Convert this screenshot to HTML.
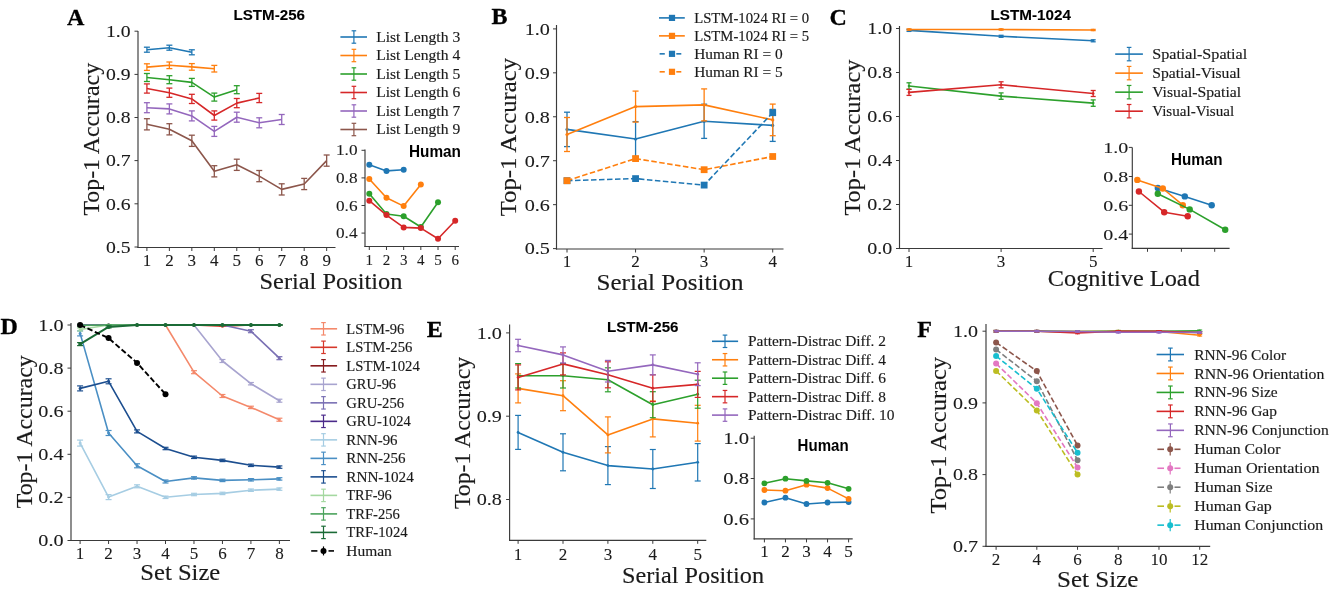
<!DOCTYPE html><html><head><meta charset="utf-8"><style>html,body{margin:0;padding:0;background:#fff;}svg{display:block;will-change:transform;}</style></head><body><svg width="1344" height="602" viewBox="0 0 1344 602">
<defs><filter id="bl" x="0" y="0" width="100%" height="100%" filterUnits="userSpaceOnUse"><feGaussianBlur stdDeviation="0.0"/></filter></defs>
<rect width="1344" height="602" fill="#fff"/>
<g>
<text x="67.0" y="24.7" font-family='"Liberation Serif", serif' font-size="24" font-weight="bold" text-anchor="start" fill="#000" stroke="#000" stroke-width="0.3">A</text>
<text x="233.5" y="19.9" font-family='"Liberation Sans", sans-serif' font-size="15.5" font-weight="bold" text-anchor="start" fill="#000" textLength="71.5" lengthAdjust="spacingAndGlyphs" stroke="#000" stroke-width="0.1">LSTM-256</text>
<line x1="138.00" y1="31.00" x2="138.00" y2="248.07" stroke="#3a3a3a" stroke-width="1.15"/>
<line x1="137.43" y1="247.50" x2="335.50" y2="247.50" stroke="#3a3a3a" stroke-width="1.15"/>
<line x1="134.50" y1="31.20" x2="138.00" y2="31.20" stroke="#3a3a3a" stroke-width="1"/>
<text x="130.6" y="37.0" font-family='"Liberation Serif", serif' font-size="17" font-weight="normal" text-anchor="end" fill="#1a1a1a" textLength="24.6" lengthAdjust="spacingAndGlyphs" stroke="#1a1a1a" stroke-width="0.1">1.0</text>
<line x1="134.50" y1="74.40" x2="138.00" y2="74.40" stroke="#3a3a3a" stroke-width="1"/>
<text x="130.6" y="80.2" font-family='"Liberation Serif", serif' font-size="17" font-weight="normal" text-anchor="end" fill="#1a1a1a" textLength="24.6" lengthAdjust="spacingAndGlyphs" stroke="#1a1a1a" stroke-width="0.1">0.9</text>
<line x1="134.50" y1="117.50" x2="138.00" y2="117.50" stroke="#3a3a3a" stroke-width="1"/>
<text x="130.6" y="123.3" font-family='"Liberation Serif", serif' font-size="17" font-weight="normal" text-anchor="end" fill="#1a1a1a" textLength="24.6" lengthAdjust="spacingAndGlyphs" stroke="#1a1a1a" stroke-width="0.1">0.8</text>
<line x1="134.50" y1="160.60" x2="138.00" y2="160.60" stroke="#3a3a3a" stroke-width="1"/>
<text x="130.6" y="166.4" font-family='"Liberation Serif", serif' font-size="17" font-weight="normal" text-anchor="end" fill="#1a1a1a" textLength="24.6" lengthAdjust="spacingAndGlyphs" stroke="#1a1a1a" stroke-width="0.1">0.7</text>
<line x1="134.50" y1="203.80" x2="138.00" y2="203.80" stroke="#3a3a3a" stroke-width="1"/>
<text x="130.6" y="209.6" font-family='"Liberation Serif", serif' font-size="17" font-weight="normal" text-anchor="end" fill="#1a1a1a" textLength="24.6" lengthAdjust="spacingAndGlyphs" stroke="#1a1a1a" stroke-width="0.1">0.6</text>
<line x1="134.50" y1="247.00" x2="138.00" y2="247.00" stroke="#3a3a3a" stroke-width="1"/>
<text x="130.6" y="252.8" font-family='"Liberation Serif", serif' font-size="17" font-weight="normal" text-anchor="end" fill="#1a1a1a" textLength="24.6" lengthAdjust="spacingAndGlyphs" stroke="#1a1a1a" stroke-width="0.1">0.5</text>
<line x1="146.90" y1="247.50" x2="146.90" y2="251.00" stroke="#3a3a3a" stroke-width="1"/>
<text x="146.9" y="265.8" font-family='"Liberation Serif", serif' font-size="17" font-weight="normal" text-anchor="middle" fill="#1a1a1a" stroke="#1a1a1a" stroke-width="0.1">1</text>
<line x1="169.37" y1="247.50" x2="169.37" y2="251.00" stroke="#3a3a3a" stroke-width="1"/>
<text x="169.4" y="265.8" font-family='"Liberation Serif", serif' font-size="17" font-weight="normal" text-anchor="middle" fill="#1a1a1a" stroke="#1a1a1a" stroke-width="0.1">2</text>
<line x1="191.84" y1="247.50" x2="191.84" y2="251.00" stroke="#3a3a3a" stroke-width="1"/>
<text x="191.8" y="265.8" font-family='"Liberation Serif", serif' font-size="17" font-weight="normal" text-anchor="middle" fill="#1a1a1a" stroke="#1a1a1a" stroke-width="0.1">3</text>
<line x1="214.31" y1="247.50" x2="214.31" y2="251.00" stroke="#3a3a3a" stroke-width="1"/>
<text x="214.3" y="265.8" font-family='"Liberation Serif", serif' font-size="17" font-weight="normal" text-anchor="middle" fill="#1a1a1a" stroke="#1a1a1a" stroke-width="0.1">4</text>
<line x1="236.78" y1="247.50" x2="236.78" y2="251.00" stroke="#3a3a3a" stroke-width="1"/>
<text x="236.8" y="265.8" font-family='"Liberation Serif", serif' font-size="17" font-weight="normal" text-anchor="middle" fill="#1a1a1a" stroke="#1a1a1a" stroke-width="0.1">5</text>
<line x1="259.25" y1="247.50" x2="259.25" y2="251.00" stroke="#3a3a3a" stroke-width="1"/>
<text x="259.2" y="265.8" font-family='"Liberation Serif", serif' font-size="17" font-weight="normal" text-anchor="middle" fill="#1a1a1a" stroke="#1a1a1a" stroke-width="0.1">6</text>
<line x1="281.72" y1="247.50" x2="281.72" y2="251.00" stroke="#3a3a3a" stroke-width="1"/>
<text x="281.7" y="265.8" font-family='"Liberation Serif", serif' font-size="17" font-weight="normal" text-anchor="middle" fill="#1a1a1a" stroke="#1a1a1a" stroke-width="0.1">7</text>
<line x1="304.19" y1="247.50" x2="304.19" y2="251.00" stroke="#3a3a3a" stroke-width="1"/>
<text x="304.2" y="265.8" font-family='"Liberation Serif", serif' font-size="17" font-weight="normal" text-anchor="middle" fill="#1a1a1a" stroke="#1a1a1a" stroke-width="0.1">8</text>
<line x1="326.66" y1="247.50" x2="326.66" y2="251.00" stroke="#3a3a3a" stroke-width="1"/>
<text x="326.7" y="265.8" font-family='"Liberation Serif", serif' font-size="17" font-weight="normal" text-anchor="middle" fill="#1a1a1a" stroke="#1a1a1a" stroke-width="0.1">9</text>
<text x="259.5" y="288.5" font-family='"Liberation Serif", serif' font-size="22.5" font-weight="normal" text-anchor="start" fill="#1a1a1a" textLength="143.0" lengthAdjust="spacingAndGlyphs" stroke="#1a1a1a" stroke-width="0.15">Serial Position</text>
<text transform="translate(98.9,215.6) rotate(-90)" x="0" y="0" font-family='"Liberation Serif", serif' font-size="23" fill="#1a1a1a" stroke="#1a1a1a" stroke-width="0.15" textLength="152.7" lengthAdjust="spacingAndGlyphs">Top-1 Accuracy</text>
<polyline points="146.90,49.70 169.37,47.70 191.84,52.30" fill="none" stroke="#1f77b4" stroke-width="1.6" stroke-linejoin="round"/>
<line x1="146.90" y1="47.20" x2="146.90" y2="52.20" stroke="#1f77b4" stroke-width="1.3"/>
<line x1="143.90" y1="47.20" x2="149.90" y2="47.20" stroke="#1f77b4" stroke-width="1.3"/>
<line x1="143.90" y1="52.20" x2="149.90" y2="52.20" stroke="#1f77b4" stroke-width="1.3"/>
<line x1="169.37" y1="45.20" x2="169.37" y2="50.20" stroke="#1f77b4" stroke-width="1.3"/>
<line x1="166.37" y1="45.20" x2="172.37" y2="45.20" stroke="#1f77b4" stroke-width="1.3"/>
<line x1="166.37" y1="50.20" x2="172.37" y2="50.20" stroke="#1f77b4" stroke-width="1.3"/>
<line x1="191.84" y1="49.80" x2="191.84" y2="54.80" stroke="#1f77b4" stroke-width="1.3"/>
<line x1="188.84" y1="49.80" x2="194.84" y2="49.80" stroke="#1f77b4" stroke-width="1.3"/>
<line x1="188.84" y1="54.80" x2="194.84" y2="54.80" stroke="#1f77b4" stroke-width="1.3"/>
<polyline points="146.90,67.10 169.37,65.30 191.84,66.90 214.31,68.70" fill="none" stroke="#ff7f0e" stroke-width="1.6" stroke-linejoin="round"/>
<line x1="146.90" y1="63.80" x2="146.90" y2="70.40" stroke="#ff7f0e" stroke-width="1.3"/>
<line x1="143.90" y1="63.80" x2="149.90" y2="63.80" stroke="#ff7f0e" stroke-width="1.3"/>
<line x1="143.90" y1="70.40" x2="149.90" y2="70.40" stroke="#ff7f0e" stroke-width="1.3"/>
<line x1="169.37" y1="62.00" x2="169.37" y2="68.60" stroke="#ff7f0e" stroke-width="1.3"/>
<line x1="166.37" y1="62.00" x2="172.37" y2="62.00" stroke="#ff7f0e" stroke-width="1.3"/>
<line x1="166.37" y1="68.60" x2="172.37" y2="68.60" stroke="#ff7f0e" stroke-width="1.3"/>
<line x1="191.84" y1="63.60" x2="191.84" y2="70.20" stroke="#ff7f0e" stroke-width="1.3"/>
<line x1="188.84" y1="63.60" x2="194.84" y2="63.60" stroke="#ff7f0e" stroke-width="1.3"/>
<line x1="188.84" y1="70.20" x2="194.84" y2="70.20" stroke="#ff7f0e" stroke-width="1.3"/>
<line x1="214.31" y1="65.40" x2="214.31" y2="72.00" stroke="#ff7f0e" stroke-width="1.3"/>
<line x1="211.31" y1="65.40" x2="217.31" y2="65.40" stroke="#ff7f0e" stroke-width="1.3"/>
<line x1="211.31" y1="72.00" x2="217.31" y2="72.00" stroke="#ff7f0e" stroke-width="1.3"/>
<polyline points="146.90,77.50 169.37,79.70 191.84,82.40 214.31,97.10 236.78,89.70" fill="none" stroke="#2ca02c" stroke-width="1.6" stroke-linejoin="round"/>
<line x1="146.90" y1="73.50" x2="146.90" y2="81.50" stroke="#2ca02c" stroke-width="1.3"/>
<line x1="143.90" y1="73.50" x2="149.90" y2="73.50" stroke="#2ca02c" stroke-width="1.3"/>
<line x1="143.90" y1="81.50" x2="149.90" y2="81.50" stroke="#2ca02c" stroke-width="1.3"/>
<line x1="169.37" y1="75.70" x2="169.37" y2="83.70" stroke="#2ca02c" stroke-width="1.3"/>
<line x1="166.37" y1="75.70" x2="172.37" y2="75.70" stroke="#2ca02c" stroke-width="1.3"/>
<line x1="166.37" y1="83.70" x2="172.37" y2="83.70" stroke="#2ca02c" stroke-width="1.3"/>
<line x1="191.84" y1="78.40" x2="191.84" y2="86.40" stroke="#2ca02c" stroke-width="1.3"/>
<line x1="188.84" y1="78.40" x2="194.84" y2="78.40" stroke="#2ca02c" stroke-width="1.3"/>
<line x1="188.84" y1="86.40" x2="194.84" y2="86.40" stroke="#2ca02c" stroke-width="1.3"/>
<line x1="214.31" y1="93.10" x2="214.31" y2="101.10" stroke="#2ca02c" stroke-width="1.3"/>
<line x1="211.31" y1="93.10" x2="217.31" y2="93.10" stroke="#2ca02c" stroke-width="1.3"/>
<line x1="211.31" y1="101.10" x2="217.31" y2="101.10" stroke="#2ca02c" stroke-width="1.3"/>
<line x1="236.78" y1="85.70" x2="236.78" y2="93.70" stroke="#2ca02c" stroke-width="1.3"/>
<line x1="233.78" y1="85.70" x2="239.78" y2="85.70" stroke="#2ca02c" stroke-width="1.3"/>
<line x1="233.78" y1="93.70" x2="239.78" y2="93.70" stroke="#2ca02c" stroke-width="1.3"/>
<polyline points="146.90,88.50 169.37,92.70 191.84,98.90 214.31,115.50 236.78,103.10 259.25,98.00" fill="none" stroke="#d62728" stroke-width="1.6" stroke-linejoin="round"/>
<line x1="146.90" y1="83.90" x2="146.90" y2="93.10" stroke="#d62728" stroke-width="1.3"/>
<line x1="143.90" y1="83.90" x2="149.90" y2="83.90" stroke="#d62728" stroke-width="1.3"/>
<line x1="143.90" y1="93.10" x2="149.90" y2="93.10" stroke="#d62728" stroke-width="1.3"/>
<line x1="169.37" y1="88.10" x2="169.37" y2="97.30" stroke="#d62728" stroke-width="1.3"/>
<line x1="166.37" y1="88.10" x2="172.37" y2="88.10" stroke="#d62728" stroke-width="1.3"/>
<line x1="166.37" y1="97.30" x2="172.37" y2="97.30" stroke="#d62728" stroke-width="1.3"/>
<line x1="191.84" y1="94.30" x2="191.84" y2="103.50" stroke="#d62728" stroke-width="1.3"/>
<line x1="188.84" y1="94.30" x2="194.84" y2="94.30" stroke="#d62728" stroke-width="1.3"/>
<line x1="188.84" y1="103.50" x2="194.84" y2="103.50" stroke="#d62728" stroke-width="1.3"/>
<line x1="214.31" y1="110.90" x2="214.31" y2="120.10" stroke="#d62728" stroke-width="1.3"/>
<line x1="211.31" y1="110.90" x2="217.31" y2="110.90" stroke="#d62728" stroke-width="1.3"/>
<line x1="211.31" y1="120.10" x2="217.31" y2="120.10" stroke="#d62728" stroke-width="1.3"/>
<line x1="236.78" y1="98.50" x2="236.78" y2="107.70" stroke="#d62728" stroke-width="1.3"/>
<line x1="233.78" y1="98.50" x2="239.78" y2="98.50" stroke="#d62728" stroke-width="1.3"/>
<line x1="233.78" y1="107.70" x2="239.78" y2="107.70" stroke="#d62728" stroke-width="1.3"/>
<line x1="259.25" y1="93.40" x2="259.25" y2="102.60" stroke="#d62728" stroke-width="1.3"/>
<line x1="256.25" y1="93.40" x2="262.25" y2="93.40" stroke="#d62728" stroke-width="1.3"/>
<line x1="256.25" y1="102.60" x2="262.25" y2="102.60" stroke="#d62728" stroke-width="1.3"/>
<polyline points="146.90,107.70 169.37,108.90 191.84,115.90 214.31,131.40 236.78,117.20 259.25,122.80 281.72,119.50" fill="none" stroke="#9467bd" stroke-width="1.6" stroke-linejoin="round"/>
<line x1="146.90" y1="102.70" x2="146.90" y2="112.70" stroke="#9467bd" stroke-width="1.3"/>
<line x1="143.90" y1="102.70" x2="149.90" y2="102.70" stroke="#9467bd" stroke-width="1.3"/>
<line x1="143.90" y1="112.70" x2="149.90" y2="112.70" stroke="#9467bd" stroke-width="1.3"/>
<line x1="169.37" y1="103.90" x2="169.37" y2="113.90" stroke="#9467bd" stroke-width="1.3"/>
<line x1="166.37" y1="103.90" x2="172.37" y2="103.90" stroke="#9467bd" stroke-width="1.3"/>
<line x1="166.37" y1="113.90" x2="172.37" y2="113.90" stroke="#9467bd" stroke-width="1.3"/>
<line x1="191.84" y1="110.90" x2="191.84" y2="120.90" stroke="#9467bd" stroke-width="1.3"/>
<line x1="188.84" y1="110.90" x2="194.84" y2="110.90" stroke="#9467bd" stroke-width="1.3"/>
<line x1="188.84" y1="120.90" x2="194.84" y2="120.90" stroke="#9467bd" stroke-width="1.3"/>
<line x1="214.31" y1="126.40" x2="214.31" y2="136.40" stroke="#9467bd" stroke-width="1.3"/>
<line x1="211.31" y1="126.40" x2="217.31" y2="126.40" stroke="#9467bd" stroke-width="1.3"/>
<line x1="211.31" y1="136.40" x2="217.31" y2="136.40" stroke="#9467bd" stroke-width="1.3"/>
<line x1="236.78" y1="112.20" x2="236.78" y2="122.20" stroke="#9467bd" stroke-width="1.3"/>
<line x1="233.78" y1="112.20" x2="239.78" y2="112.20" stroke="#9467bd" stroke-width="1.3"/>
<line x1="233.78" y1="122.20" x2="239.78" y2="122.20" stroke="#9467bd" stroke-width="1.3"/>
<line x1="259.25" y1="117.80" x2="259.25" y2="127.80" stroke="#9467bd" stroke-width="1.3"/>
<line x1="256.25" y1="117.80" x2="262.25" y2="117.80" stroke="#9467bd" stroke-width="1.3"/>
<line x1="256.25" y1="127.80" x2="262.25" y2="127.80" stroke="#9467bd" stroke-width="1.3"/>
<line x1="281.72" y1="114.50" x2="281.72" y2="124.50" stroke="#9467bd" stroke-width="1.3"/>
<line x1="278.72" y1="114.50" x2="284.72" y2="114.50" stroke="#9467bd" stroke-width="1.3"/>
<line x1="278.72" y1="124.50" x2="284.72" y2="124.50" stroke="#9467bd" stroke-width="1.3"/>
<polyline points="146.90,124.30 169.37,129.30 191.84,140.80 214.31,171.30 236.78,164.80 259.25,176.10 281.72,189.40 304.19,184.00 326.66,160.60" fill="none" stroke="#8c564b" stroke-width="1.6" stroke-linejoin="round"/>
<line x1="146.90" y1="118.70" x2="146.90" y2="129.90" stroke="#8c564b" stroke-width="1.3"/>
<line x1="143.90" y1="118.70" x2="149.90" y2="118.70" stroke="#8c564b" stroke-width="1.3"/>
<line x1="143.90" y1="129.90" x2="149.90" y2="129.90" stroke="#8c564b" stroke-width="1.3"/>
<line x1="169.37" y1="123.70" x2="169.37" y2="134.90" stroke="#8c564b" stroke-width="1.3"/>
<line x1="166.37" y1="123.70" x2="172.37" y2="123.70" stroke="#8c564b" stroke-width="1.3"/>
<line x1="166.37" y1="134.90" x2="172.37" y2="134.90" stroke="#8c564b" stroke-width="1.3"/>
<line x1="191.84" y1="135.20" x2="191.84" y2="146.40" stroke="#8c564b" stroke-width="1.3"/>
<line x1="188.84" y1="135.20" x2="194.84" y2="135.20" stroke="#8c564b" stroke-width="1.3"/>
<line x1="188.84" y1="146.40" x2="194.84" y2="146.40" stroke="#8c564b" stroke-width="1.3"/>
<line x1="214.31" y1="165.70" x2="214.31" y2="176.90" stroke="#8c564b" stroke-width="1.3"/>
<line x1="211.31" y1="165.70" x2="217.31" y2="165.70" stroke="#8c564b" stroke-width="1.3"/>
<line x1="211.31" y1="176.90" x2="217.31" y2="176.90" stroke="#8c564b" stroke-width="1.3"/>
<line x1="236.78" y1="159.20" x2="236.78" y2="170.40" stroke="#8c564b" stroke-width="1.3"/>
<line x1="233.78" y1="159.20" x2="239.78" y2="159.20" stroke="#8c564b" stroke-width="1.3"/>
<line x1="233.78" y1="170.40" x2="239.78" y2="170.40" stroke="#8c564b" stroke-width="1.3"/>
<line x1="259.25" y1="170.50" x2="259.25" y2="181.70" stroke="#8c564b" stroke-width="1.3"/>
<line x1="256.25" y1="170.50" x2="262.25" y2="170.50" stroke="#8c564b" stroke-width="1.3"/>
<line x1="256.25" y1="181.70" x2="262.25" y2="181.70" stroke="#8c564b" stroke-width="1.3"/>
<line x1="281.72" y1="183.80" x2="281.72" y2="195.00" stroke="#8c564b" stroke-width="1.3"/>
<line x1="278.72" y1="183.80" x2="284.72" y2="183.80" stroke="#8c564b" stroke-width="1.3"/>
<line x1="278.72" y1="195.00" x2="284.72" y2="195.00" stroke="#8c564b" stroke-width="1.3"/>
<line x1="304.19" y1="178.40" x2="304.19" y2="189.60" stroke="#8c564b" stroke-width="1.3"/>
<line x1="301.19" y1="178.40" x2="307.19" y2="178.40" stroke="#8c564b" stroke-width="1.3"/>
<line x1="301.19" y1="189.60" x2="307.19" y2="189.60" stroke="#8c564b" stroke-width="1.3"/>
<line x1="326.66" y1="155.00" x2="326.66" y2="166.20" stroke="#8c564b" stroke-width="1.3"/>
<line x1="323.66" y1="155.00" x2="329.66" y2="155.00" stroke="#8c564b" stroke-width="1.3"/>
<line x1="323.66" y1="166.20" x2="329.66" y2="166.20" stroke="#8c564b" stroke-width="1.3"/>
<line x1="340.40" y1="37.00" x2="367.00" y2="37.00" stroke="#1f77b4" stroke-width="1.6"/>
<line x1="353.90" y1="30.80" x2="353.90" y2="43.20" stroke="#1f77b4" stroke-width="1.2"/>
<line x1="351.60" y1="30.80" x2="356.20" y2="30.80" stroke="#1f77b4" stroke-width="1.2"/>
<line x1="351.60" y1="43.20" x2="356.20" y2="43.20" stroke="#1f77b4" stroke-width="1.2"/>
<text x="376.2" y="41.9" font-family='"Liberation Serif", serif' font-size="15" font-weight="normal" text-anchor="start" fill="#1a1a1a" textLength="84.0" lengthAdjust="spacingAndGlyphs" stroke="#1a1a1a" stroke-width="0.15">List Length 3</text>
<line x1="340.40" y1="55.50" x2="367.00" y2="55.50" stroke="#ff7f0e" stroke-width="1.6"/>
<line x1="353.90" y1="49.30" x2="353.90" y2="61.70" stroke="#ff7f0e" stroke-width="1.2"/>
<line x1="351.60" y1="49.30" x2="356.20" y2="49.30" stroke="#ff7f0e" stroke-width="1.2"/>
<line x1="351.60" y1="61.70" x2="356.20" y2="61.70" stroke="#ff7f0e" stroke-width="1.2"/>
<text x="376.2" y="60.4" font-family='"Liberation Serif", serif' font-size="15" font-weight="normal" text-anchor="start" fill="#1a1a1a" textLength="84.0" lengthAdjust="spacingAndGlyphs" stroke="#1a1a1a" stroke-width="0.15">List Length 4</text>
<line x1="340.40" y1="74.00" x2="367.00" y2="74.00" stroke="#2ca02c" stroke-width="1.6"/>
<line x1="353.90" y1="67.80" x2="353.90" y2="80.20" stroke="#2ca02c" stroke-width="1.2"/>
<line x1="351.60" y1="67.80" x2="356.20" y2="67.80" stroke="#2ca02c" stroke-width="1.2"/>
<line x1="351.60" y1="80.20" x2="356.20" y2="80.20" stroke="#2ca02c" stroke-width="1.2"/>
<text x="376.2" y="78.9" font-family='"Liberation Serif", serif' font-size="15" font-weight="normal" text-anchor="start" fill="#1a1a1a" textLength="84.0" lengthAdjust="spacingAndGlyphs" stroke="#1a1a1a" stroke-width="0.15">List Length 5</text>
<line x1="340.40" y1="92.50" x2="367.00" y2="92.50" stroke="#d62728" stroke-width="1.6"/>
<line x1="353.90" y1="86.30" x2="353.90" y2="98.70" stroke="#d62728" stroke-width="1.2"/>
<line x1="351.60" y1="86.30" x2="356.20" y2="86.30" stroke="#d62728" stroke-width="1.2"/>
<line x1="351.60" y1="98.70" x2="356.20" y2="98.70" stroke="#d62728" stroke-width="1.2"/>
<text x="376.2" y="97.4" font-family='"Liberation Serif", serif' font-size="15" font-weight="normal" text-anchor="start" fill="#1a1a1a" textLength="84.0" lengthAdjust="spacingAndGlyphs" stroke="#1a1a1a" stroke-width="0.15">List Length 6</text>
<line x1="340.40" y1="111.00" x2="367.00" y2="111.00" stroke="#9467bd" stroke-width="1.6"/>
<line x1="353.90" y1="104.80" x2="353.90" y2="117.20" stroke="#9467bd" stroke-width="1.2"/>
<line x1="351.60" y1="104.80" x2="356.20" y2="104.80" stroke="#9467bd" stroke-width="1.2"/>
<line x1="351.60" y1="117.20" x2="356.20" y2="117.20" stroke="#9467bd" stroke-width="1.2"/>
<text x="376.2" y="115.9" font-family='"Liberation Serif", serif' font-size="15" font-weight="normal" text-anchor="start" fill="#1a1a1a" textLength="84.0" lengthAdjust="spacingAndGlyphs" stroke="#1a1a1a" stroke-width="0.15">List Length 7</text>
<line x1="340.40" y1="129.50" x2="367.00" y2="129.50" stroke="#8c564b" stroke-width="1.6"/>
<line x1="353.90" y1="123.30" x2="353.90" y2="135.70" stroke="#8c564b" stroke-width="1.2"/>
<line x1="351.60" y1="123.30" x2="356.20" y2="123.30" stroke="#8c564b" stroke-width="1.2"/>
<line x1="351.60" y1="135.70" x2="356.20" y2="135.70" stroke="#8c564b" stroke-width="1.2"/>
<text x="376.2" y="134.4" font-family='"Liberation Serif", serif' font-size="15" font-weight="normal" text-anchor="start" fill="#1a1a1a" textLength="84.0" lengthAdjust="spacingAndGlyphs" stroke="#1a1a1a" stroke-width="0.15">List Length 9</text>
<line x1="365.00" y1="149.50" x2="365.00" y2="247.07" stroke="#3a3a3a" stroke-width="1.15"/>
<line x1="364.43" y1="246.50" x2="459.00" y2="246.50" stroke="#3a3a3a" stroke-width="1.15"/>
<line x1="361.50" y1="150.30" x2="365.00" y2="150.30" stroke="#3a3a3a" stroke-width="1"/>
<text x="357.5" y="155.3" font-family='"Liberation Serif", serif' font-size="14.5" font-weight="normal" text-anchor="end" fill="#1a1a1a" textLength="21.5" lengthAdjust="spacingAndGlyphs" stroke="#1a1a1a" stroke-width="0.1">1.0</text>
<line x1="361.50" y1="177.90" x2="365.00" y2="177.90" stroke="#3a3a3a" stroke-width="1"/>
<text x="357.5" y="182.9" font-family='"Liberation Serif", serif' font-size="14.5" font-weight="normal" text-anchor="end" fill="#1a1a1a" textLength="21.5" lengthAdjust="spacingAndGlyphs" stroke="#1a1a1a" stroke-width="0.1">0.8</text>
<line x1="361.50" y1="205.50" x2="365.00" y2="205.50" stroke="#3a3a3a" stroke-width="1"/>
<text x="357.5" y="210.5" font-family='"Liberation Serif", serif' font-size="14.5" font-weight="normal" text-anchor="end" fill="#1a1a1a" textLength="21.5" lengthAdjust="spacingAndGlyphs" stroke="#1a1a1a" stroke-width="0.1">0.6</text>
<line x1="361.50" y1="233.10" x2="365.00" y2="233.10" stroke="#3a3a3a" stroke-width="1"/>
<text x="357.5" y="238.1" font-family='"Liberation Serif", serif' font-size="14.5" font-weight="normal" text-anchor="end" fill="#1a1a1a" textLength="21.5" lengthAdjust="spacingAndGlyphs" stroke="#1a1a1a" stroke-width="0.1">0.4</text>
<line x1="369.30" y1="246.50" x2="369.30" y2="250.00" stroke="#3a3a3a" stroke-width="1"/>
<text x="369.3" y="265.2" font-family='"Liberation Serif", serif' font-size="15" font-weight="normal" text-anchor="middle" fill="#1a1a1a" stroke="#1a1a1a" stroke-width="0.1">1</text>
<line x1="386.48" y1="246.50" x2="386.48" y2="250.00" stroke="#3a3a3a" stroke-width="1"/>
<text x="386.5" y="265.2" font-family='"Liberation Serif", serif' font-size="15" font-weight="normal" text-anchor="middle" fill="#1a1a1a" stroke="#1a1a1a" stroke-width="0.1">2</text>
<line x1="403.66" y1="246.50" x2="403.66" y2="250.00" stroke="#3a3a3a" stroke-width="1"/>
<text x="403.7" y="265.2" font-family='"Liberation Serif", serif' font-size="15" font-weight="normal" text-anchor="middle" fill="#1a1a1a" stroke="#1a1a1a" stroke-width="0.1">3</text>
<line x1="420.84" y1="246.50" x2="420.84" y2="250.00" stroke="#3a3a3a" stroke-width="1"/>
<text x="420.8" y="265.2" font-family='"Liberation Serif", serif' font-size="15" font-weight="normal" text-anchor="middle" fill="#1a1a1a" stroke="#1a1a1a" stroke-width="0.1">4</text>
<line x1="438.02" y1="246.50" x2="438.02" y2="250.00" stroke="#3a3a3a" stroke-width="1"/>
<text x="438.0" y="265.2" font-family='"Liberation Serif", serif' font-size="15" font-weight="normal" text-anchor="middle" fill="#1a1a1a" stroke="#1a1a1a" stroke-width="0.1">5</text>
<line x1="455.20" y1="246.50" x2="455.20" y2="250.00" stroke="#3a3a3a" stroke-width="1"/>
<text x="455.2" y="265.2" font-family='"Liberation Serif", serif' font-size="15" font-weight="normal" text-anchor="middle" fill="#1a1a1a" stroke="#1a1a1a" stroke-width="0.1">6</text>
<text x="409.0" y="156.6" font-family='"Liberation Sans", sans-serif' font-size="15.7" font-weight="bold" text-anchor="start" fill="#000" textLength="52.0" lengthAdjust="spacingAndGlyphs">Human</text>
<polyline points="369.30,164.80 386.48,170.90 403.66,169.80" fill="none" stroke="#1f77b4" stroke-width="1.6" stroke-linejoin="round"/>
<circle cx="369.30" cy="164.80" r="3.0" fill="#1f77b4"/>
<circle cx="386.48" cy="170.90" r="3.0" fill="#1f77b4"/>
<circle cx="403.66" cy="169.80" r="3.0" fill="#1f77b4"/>
<polyline points="369.30,179.00 386.48,197.80 403.66,206.10 420.84,184.40" fill="none" stroke="#ff7f0e" stroke-width="1.6" stroke-linejoin="round"/>
<circle cx="369.30" cy="179.00" r="3.0" fill="#ff7f0e"/>
<circle cx="386.48" cy="197.80" r="3.0" fill="#ff7f0e"/>
<circle cx="403.66" cy="206.10" r="3.0" fill="#ff7f0e"/>
<circle cx="420.84" cy="184.40" r="3.0" fill="#ff7f0e"/>
<polyline points="369.30,193.80 386.48,214.00 403.66,216.20 420.84,227.00 438.02,202.30" fill="none" stroke="#2ca02c" stroke-width="1.6" stroke-linejoin="round"/>
<circle cx="369.30" cy="193.80" r="3.0" fill="#2ca02c"/>
<circle cx="386.48" cy="214.00" r="3.0" fill="#2ca02c"/>
<circle cx="403.66" cy="216.20" r="3.0" fill="#2ca02c"/>
<circle cx="420.84" cy="227.00" r="3.0" fill="#2ca02c"/>
<circle cx="438.02" cy="202.30" r="3.0" fill="#2ca02c"/>
<polyline points="369.30,200.70 386.48,215.10 403.66,227.40 420.84,228.10 438.02,238.70 455.20,220.70" fill="none" stroke="#d62728" stroke-width="1.6" stroke-linejoin="round"/>
<circle cx="369.30" cy="200.70" r="3.0" fill="#d62728"/>
<circle cx="386.48" cy="215.10" r="3.0" fill="#d62728"/>
<circle cx="403.66" cy="227.40" r="3.0" fill="#d62728"/>
<circle cx="420.84" cy="228.10" r="3.0" fill="#d62728"/>
<circle cx="438.02" cy="238.70" r="3.0" fill="#d62728"/>
<circle cx="455.20" cy="220.70" r="3.0" fill="#d62728"/>
<text x="491.5" y="24.3" font-family='"Liberation Serif", serif' font-size="24" font-weight="bold" text-anchor="start" fill="#000" stroke="#000" stroke-width="0.3">B</text>
<line x1="556.50" y1="25.00" x2="556.50" y2="249.57" stroke="#3a3a3a" stroke-width="1.15"/>
<line x1="555.92" y1="249.00" x2="783.50" y2="249.00" stroke="#3a3a3a" stroke-width="1.15"/>
<line x1="553.00" y1="28.90" x2="556.50" y2="28.90" stroke="#3a3a3a" stroke-width="1"/>
<text x="549.9" y="34.7" font-family='"Liberation Serif", serif' font-size="17" font-weight="normal" text-anchor="end" fill="#1a1a1a" textLength="25.2" lengthAdjust="spacingAndGlyphs" stroke="#1a1a1a" stroke-width="0.1">1.0</text>
<line x1="553.00" y1="72.84" x2="556.50" y2="72.84" stroke="#3a3a3a" stroke-width="1"/>
<text x="549.9" y="78.6" font-family='"Liberation Serif", serif' font-size="17" font-weight="normal" text-anchor="end" fill="#1a1a1a" textLength="25.2" lengthAdjust="spacingAndGlyphs" stroke="#1a1a1a" stroke-width="0.1">0.9</text>
<line x1="553.00" y1="116.78" x2="556.50" y2="116.78" stroke="#3a3a3a" stroke-width="1"/>
<text x="549.9" y="122.6" font-family='"Liberation Serif", serif' font-size="17" font-weight="normal" text-anchor="end" fill="#1a1a1a" textLength="25.2" lengthAdjust="spacingAndGlyphs" stroke="#1a1a1a" stroke-width="0.1">0.8</text>
<line x1="553.00" y1="160.72" x2="556.50" y2="160.72" stroke="#3a3a3a" stroke-width="1"/>
<text x="549.9" y="166.5" font-family='"Liberation Serif", serif' font-size="17" font-weight="normal" text-anchor="end" fill="#1a1a1a" textLength="25.2" lengthAdjust="spacingAndGlyphs" stroke="#1a1a1a" stroke-width="0.1">0.7</text>
<line x1="553.00" y1="204.66" x2="556.50" y2="204.66" stroke="#3a3a3a" stroke-width="1"/>
<text x="549.9" y="210.5" font-family='"Liberation Serif", serif' font-size="17" font-weight="normal" text-anchor="end" fill="#1a1a1a" textLength="25.2" lengthAdjust="spacingAndGlyphs" stroke="#1a1a1a" stroke-width="0.1">0.6</text>
<line x1="553.00" y1="248.60" x2="556.50" y2="248.60" stroke="#3a3a3a" stroke-width="1"/>
<text x="549.9" y="254.4" font-family='"Liberation Serif", serif' font-size="17" font-weight="normal" text-anchor="end" fill="#1a1a1a" textLength="25.2" lengthAdjust="spacingAndGlyphs" stroke="#1a1a1a" stroke-width="0.1">0.5</text>
<line x1="567.00" y1="249.00" x2="567.00" y2="252.50" stroke="#3a3a3a" stroke-width="1"/>
<text x="567.0" y="267.0" font-family='"Liberation Serif", serif' font-size="17" font-weight="normal" text-anchor="middle" fill="#1a1a1a" stroke="#1a1a1a" stroke-width="0.1">1</text>
<line x1="635.57" y1="249.00" x2="635.57" y2="252.50" stroke="#3a3a3a" stroke-width="1"/>
<text x="635.6" y="267.0" font-family='"Liberation Serif", serif' font-size="17" font-weight="normal" text-anchor="middle" fill="#1a1a1a" stroke="#1a1a1a" stroke-width="0.1">2</text>
<line x1="704.14" y1="249.00" x2="704.14" y2="252.50" stroke="#3a3a3a" stroke-width="1"/>
<text x="704.1" y="267.0" font-family='"Liberation Serif", serif' font-size="17" font-weight="normal" text-anchor="middle" fill="#1a1a1a" stroke="#1a1a1a" stroke-width="0.1">3</text>
<line x1="772.71" y1="249.00" x2="772.71" y2="252.50" stroke="#3a3a3a" stroke-width="1"/>
<text x="772.7" y="267.0" font-family='"Liberation Serif", serif' font-size="17" font-weight="normal" text-anchor="middle" fill="#1a1a1a" stroke="#1a1a1a" stroke-width="0.1">4</text>
<text x="596.5" y="289.8" font-family='"Liberation Serif", serif' font-size="23" font-weight="normal" text-anchor="start" fill="#1a1a1a" textLength="147.0" lengthAdjust="spacingAndGlyphs" stroke="#1a1a1a" stroke-width="0.15">Serial Position</text>
<text transform="translate(516.3,216.3) rotate(-90)" x="0" y="0" font-family='"Liberation Serif", serif' font-size="23" fill="#1a1a1a" stroke="#1a1a1a" stroke-width="0.15" textLength="158.4" lengthAdjust="spacingAndGlyphs">Top-1 Accuracy</text>
<polyline points="567.00,129.40 635.57,139.00 704.14,121.30 772.71,125.40" fill="none" stroke="#1f77b4" stroke-width="1.6" stroke-linejoin="round"/>
<line x1="567.00" y1="112.20" x2="567.00" y2="146.60" stroke="#1f77b4" stroke-width="1.3"/>
<line x1="564.00" y1="112.20" x2="570.00" y2="112.20" stroke="#1f77b4" stroke-width="1.3"/>
<line x1="564.00" y1="146.60" x2="570.00" y2="146.60" stroke="#1f77b4" stroke-width="1.3"/>
<circle cx="567.00" cy="129.40" r="1.6" fill="#1f77b4"/>
<line x1="635.57" y1="121.60" x2="635.57" y2="156.40" stroke="#1f77b4" stroke-width="1.3"/>
<line x1="632.57" y1="121.60" x2="638.57" y2="121.60" stroke="#1f77b4" stroke-width="1.3"/>
<line x1="632.57" y1="156.40" x2="638.57" y2="156.40" stroke="#1f77b4" stroke-width="1.3"/>
<circle cx="635.57" cy="139.00" r="1.6" fill="#1f77b4"/>
<line x1="704.14" y1="104.20" x2="704.14" y2="138.40" stroke="#1f77b4" stroke-width="1.3"/>
<line x1="701.14" y1="104.20" x2="707.14" y2="104.20" stroke="#1f77b4" stroke-width="1.3"/>
<line x1="701.14" y1="138.40" x2="707.14" y2="138.40" stroke="#1f77b4" stroke-width="1.3"/>
<circle cx="704.14" cy="121.30" r="1.6" fill="#1f77b4"/>
<line x1="772.71" y1="109.40" x2="772.71" y2="141.40" stroke="#1f77b4" stroke-width="1.3"/>
<line x1="769.71" y1="109.40" x2="775.71" y2="109.40" stroke="#1f77b4" stroke-width="1.3"/>
<line x1="769.71" y1="141.40" x2="775.71" y2="141.40" stroke="#1f77b4" stroke-width="1.3"/>
<circle cx="772.71" cy="125.40" r="1.6" fill="#1f77b4"/>
<polyline points="567.00,134.50 635.57,106.60 704.14,104.90 772.71,119.90" fill="none" stroke="#ff7f0e" stroke-width="1.6" stroke-linejoin="round"/>
<line x1="567.00" y1="117.50" x2="567.00" y2="151.50" stroke="#ff7f0e" stroke-width="1.3"/>
<line x1="564.00" y1="117.50" x2="570.00" y2="117.50" stroke="#ff7f0e" stroke-width="1.3"/>
<line x1="564.00" y1="151.50" x2="570.00" y2="151.50" stroke="#ff7f0e" stroke-width="1.3"/>
<circle cx="567.00" cy="134.50" r="1.6" fill="#ff7f0e"/>
<line x1="635.57" y1="91.10" x2="635.57" y2="122.10" stroke="#ff7f0e" stroke-width="1.3"/>
<line x1="632.57" y1="91.10" x2="638.57" y2="91.10" stroke="#ff7f0e" stroke-width="1.3"/>
<line x1="632.57" y1="122.10" x2="638.57" y2="122.10" stroke="#ff7f0e" stroke-width="1.3"/>
<circle cx="635.57" cy="106.60" r="1.6" fill="#ff7f0e"/>
<line x1="704.14" y1="88.90" x2="704.14" y2="120.90" stroke="#ff7f0e" stroke-width="1.3"/>
<line x1="701.14" y1="88.90" x2="707.14" y2="88.90" stroke="#ff7f0e" stroke-width="1.3"/>
<line x1="701.14" y1="120.90" x2="707.14" y2="120.90" stroke="#ff7f0e" stroke-width="1.3"/>
<circle cx="704.14" cy="104.90" r="1.6" fill="#ff7f0e"/>
<line x1="772.71" y1="104.10" x2="772.71" y2="135.70" stroke="#ff7f0e" stroke-width="1.3"/>
<line x1="769.71" y1="104.10" x2="775.71" y2="104.10" stroke="#ff7f0e" stroke-width="1.3"/>
<line x1="769.71" y1="135.70" x2="775.71" y2="135.70" stroke="#ff7f0e" stroke-width="1.3"/>
<circle cx="772.71" cy="119.90" r="1.6" fill="#ff7f0e"/>
<polyline points="567.00,180.70 635.57,178.60 704.14,185.10 772.71,112.70" fill="none" stroke="#1f77b4" stroke-width="1.6" stroke-linejoin="round" stroke-dasharray="5.5,2.5"/>
<rect x="563.60" y="177.30" width="6.8" height="6.8" fill="#1f77b4"/>
<rect x="632.17" y="175.20" width="6.8" height="6.8" fill="#1f77b4"/>
<rect x="700.74" y="181.70" width="6.8" height="6.8" fill="#1f77b4"/>
<rect x="769.31" y="109.30" width="6.8" height="6.8" fill="#1f77b4"/>
<polyline points="567.00,180.70 635.57,158.60 704.14,169.70 772.71,156.50" fill="none" stroke="#ff7f0e" stroke-width="1.6" stroke-linejoin="round" stroke-dasharray="5.5,2.5"/>
<rect x="563.60" y="177.30" width="6.8" height="6.8" fill="#ff7f0e"/>
<rect x="632.17" y="155.20" width="6.8" height="6.8" fill="#ff7f0e"/>
<rect x="700.74" y="166.30" width="6.8" height="6.8" fill="#ff7f0e"/>
<rect x="769.31" y="153.10" width="6.8" height="6.8" fill="#ff7f0e"/>
<line x1="659.00" y1="17.90" x2="684.80" y2="17.90" stroke="#1f77b4" stroke-width="1.6"/>
<rect x="668.90" y="14.80" width="6.2" height="6.2" fill="#1f77b4"/>
<text x="694.2" y="22.7" font-family='"Liberation Serif", serif' font-size="14" font-weight="normal" text-anchor="start" fill="#1a1a1a" textLength="115.0" lengthAdjust="spacingAndGlyphs" stroke="#1a1a1a" stroke-width="0.15">LSTM-1024 RI = 0</text>
<line x1="659.00" y1="35.87" x2="684.80" y2="35.87" stroke="#ff7f0e" stroke-width="1.6"/>
<rect x="668.90" y="32.77" width="6.2" height="6.2" fill="#ff7f0e"/>
<text x="694.2" y="40.7" font-family='"Liberation Serif", serif' font-size="14" font-weight="normal" text-anchor="start" fill="#1a1a1a" textLength="115.0" lengthAdjust="spacingAndGlyphs" stroke="#1a1a1a" stroke-width="0.15">LSTM-1024 RI = 5</text>
<line x1="659.60" y1="53.84" x2="664.80" y2="53.84" stroke="#1f77b4" stroke-width="1.6"/>
<line x1="676.30" y1="53.84" x2="681.30" y2="53.84" stroke="#1f77b4" stroke-width="1.6"/>
<rect x="668.90" y="50.74" width="6.2" height="6.2" fill="#1f77b4"/>
<text x="694.2" y="58.6" font-family='"Liberation Serif", serif' font-size="14" font-weight="normal" text-anchor="start" fill="#1a1a1a" textLength="88.5" lengthAdjust="spacingAndGlyphs" stroke="#1a1a1a" stroke-width="0.15">Human RI = 0</text>
<line x1="659.60" y1="71.81" x2="664.80" y2="71.81" stroke="#ff7f0e" stroke-width="1.6"/>
<line x1="676.30" y1="71.81" x2="681.30" y2="71.81" stroke="#ff7f0e" stroke-width="1.6"/>
<rect x="668.90" y="68.71" width="6.2" height="6.2" fill="#ff7f0e"/>
<text x="694.2" y="76.6" font-family='"Liberation Serif", serif' font-size="14" font-weight="normal" text-anchor="start" fill="#1a1a1a" textLength="88.5" lengthAdjust="spacingAndGlyphs" stroke="#1a1a1a" stroke-width="0.15">Human RI = 5</text>
<text x="829.5" y="24.9" font-family='"Liberation Serif", serif' font-size="24" font-weight="bold" text-anchor="start" fill="#000" stroke="#000" stroke-width="0.3">C</text>
<text x="990.5" y="20.0" font-family='"Liberation Sans", sans-serif' font-size="15.5" font-weight="bold" text-anchor="start" fill="#000" textLength="80.5" lengthAdjust="spacingAndGlyphs" stroke="#000" stroke-width="0.1">LSTM-1024</text>
<line x1="899.50" y1="26.00" x2="899.50" y2="249.07" stroke="#3a3a3a" stroke-width="1.15"/>
<line x1="898.92" y1="248.50" x2="1102.60" y2="248.50" stroke="#3a3a3a" stroke-width="1.15"/>
<line x1="896.00" y1="28.50" x2="899.50" y2="28.50" stroke="#3a3a3a" stroke-width="1"/>
<text x="892.3" y="34.3" font-family='"Liberation Serif", serif' font-size="17" font-weight="normal" text-anchor="end" fill="#1a1a1a" textLength="25.0" lengthAdjust="spacingAndGlyphs" stroke="#1a1a1a" stroke-width="0.1">1.0</text>
<line x1="896.00" y1="72.50" x2="899.50" y2="72.50" stroke="#3a3a3a" stroke-width="1"/>
<text x="892.3" y="78.3" font-family='"Liberation Serif", serif' font-size="17" font-weight="normal" text-anchor="end" fill="#1a1a1a" textLength="25.0" lengthAdjust="spacingAndGlyphs" stroke="#1a1a1a" stroke-width="0.1">0.8</text>
<line x1="896.00" y1="116.50" x2="899.50" y2="116.50" stroke="#3a3a3a" stroke-width="1"/>
<text x="892.3" y="122.3" font-family='"Liberation Serif", serif' font-size="17" font-weight="normal" text-anchor="end" fill="#1a1a1a" textLength="25.0" lengthAdjust="spacingAndGlyphs" stroke="#1a1a1a" stroke-width="0.1">0.6</text>
<line x1="896.00" y1="160.50" x2="899.50" y2="160.50" stroke="#3a3a3a" stroke-width="1"/>
<text x="892.3" y="166.3" font-family='"Liberation Serif", serif' font-size="17" font-weight="normal" text-anchor="end" fill="#1a1a1a" textLength="25.0" lengthAdjust="spacingAndGlyphs" stroke="#1a1a1a" stroke-width="0.1">0.4</text>
<line x1="896.00" y1="204.50" x2="899.50" y2="204.50" stroke="#3a3a3a" stroke-width="1"/>
<text x="892.3" y="210.3" font-family='"Liberation Serif", serif' font-size="17" font-weight="normal" text-anchor="end" fill="#1a1a1a" textLength="25.0" lengthAdjust="spacingAndGlyphs" stroke="#1a1a1a" stroke-width="0.1">0.2</text>
<line x1="896.00" y1="248.50" x2="899.50" y2="248.50" stroke="#3a3a3a" stroke-width="1"/>
<text x="892.3" y="254.3" font-family='"Liberation Serif", serif' font-size="17" font-weight="normal" text-anchor="end" fill="#1a1a1a" textLength="25.0" lengthAdjust="spacingAndGlyphs" stroke="#1a1a1a" stroke-width="0.1">0.0</text>
<line x1="909.00" y1="248.50" x2="909.00" y2="252.00" stroke="#3a3a3a" stroke-width="1"/>
<text x="909.0" y="267.3" font-family='"Liberation Serif", serif' font-size="17" font-weight="normal" text-anchor="middle" fill="#1a1a1a" stroke="#1a1a1a" stroke-width="0.1">1</text>
<line x1="1001.10" y1="248.50" x2="1001.10" y2="252.00" stroke="#3a3a3a" stroke-width="1"/>
<text x="1001.1" y="267.3" font-family='"Liberation Serif", serif' font-size="17" font-weight="normal" text-anchor="middle" fill="#1a1a1a" stroke="#1a1a1a" stroke-width="0.1">3</text>
<line x1="1093.20" y1="248.50" x2="1093.20" y2="252.00" stroke="#3a3a3a" stroke-width="1"/>
<text x="1093.2" y="267.3" font-family='"Liberation Serif", serif' font-size="17" font-weight="normal" text-anchor="middle" fill="#1a1a1a" stroke="#1a1a1a" stroke-width="0.1">5</text>
<text x="1047.8" y="285.8" font-family='"Liberation Serif", serif' font-size="22.5" font-weight="normal" text-anchor="start" fill="#1a1a1a" textLength="152.0" lengthAdjust="spacingAndGlyphs" stroke="#1a1a1a" stroke-width="0.15">Cognitive Load</text>
<text transform="translate(860.0,215.6) rotate(-90)" x="0" y="0" font-family='"Liberation Serif", serif' font-size="23" fill="#1a1a1a" stroke="#1a1a1a" stroke-width="0.15" textLength="156.0" lengthAdjust="spacingAndGlyphs">Top-1 Accuracy</text>
<polyline points="909.00,30.40 1001.10,36.30 1093.20,40.80" fill="none" stroke="#1f77b4" stroke-width="1.6" stroke-linejoin="round"/>
<line x1="909.00" y1="29.40" x2="909.00" y2="31.40" stroke="#1f77b4" stroke-width="1.3"/>
<line x1="906.50" y1="29.40" x2="911.50" y2="29.40" stroke="#1f77b4" stroke-width="1.3"/>
<line x1="906.50" y1="31.40" x2="911.50" y2="31.40" stroke="#1f77b4" stroke-width="1.3"/>
<circle cx="909.00" cy="30.40" r="1.3" fill="#1f77b4"/>
<line x1="1001.10" y1="35.30" x2="1001.10" y2="37.30" stroke="#1f77b4" stroke-width="1.3"/>
<line x1="998.60" y1="35.30" x2="1003.60" y2="35.30" stroke="#1f77b4" stroke-width="1.3"/>
<line x1="998.60" y1="37.30" x2="1003.60" y2="37.30" stroke="#1f77b4" stroke-width="1.3"/>
<circle cx="1001.10" cy="36.30" r="1.3" fill="#1f77b4"/>
<line x1="1093.20" y1="39.80" x2="1093.20" y2="41.80" stroke="#1f77b4" stroke-width="1.3"/>
<line x1="1090.70" y1="39.80" x2="1095.70" y2="39.80" stroke="#1f77b4" stroke-width="1.3"/>
<line x1="1090.70" y1="41.80" x2="1095.70" y2="41.80" stroke="#1f77b4" stroke-width="1.3"/>
<circle cx="1093.20" cy="40.80" r="1.3" fill="#1f77b4"/>
<polyline points="909.00,29.50 1001.10,29.50 1093.20,30.00" fill="none" stroke="#ff7f0e" stroke-width="1.6" stroke-linejoin="round"/>
<line x1="909.00" y1="28.90" x2="909.00" y2="30.10" stroke="#ff7f0e" stroke-width="1.3"/>
<line x1="906.50" y1="28.90" x2="911.50" y2="28.90" stroke="#ff7f0e" stroke-width="1.3"/>
<line x1="906.50" y1="30.10" x2="911.50" y2="30.10" stroke="#ff7f0e" stroke-width="1.3"/>
<circle cx="909.00" cy="29.50" r="1.3" fill="#ff7f0e"/>
<line x1="1001.10" y1="28.90" x2="1001.10" y2="30.10" stroke="#ff7f0e" stroke-width="1.3"/>
<line x1="998.60" y1="28.90" x2="1003.60" y2="28.90" stroke="#ff7f0e" stroke-width="1.3"/>
<line x1="998.60" y1="30.10" x2="1003.60" y2="30.10" stroke="#ff7f0e" stroke-width="1.3"/>
<circle cx="1001.10" cy="29.50" r="1.3" fill="#ff7f0e"/>
<line x1="1093.20" y1="29.40" x2="1093.20" y2="30.60" stroke="#ff7f0e" stroke-width="1.3"/>
<line x1="1090.70" y1="29.40" x2="1095.70" y2="29.40" stroke="#ff7f0e" stroke-width="1.3"/>
<line x1="1090.70" y1="30.60" x2="1095.70" y2="30.60" stroke="#ff7f0e" stroke-width="1.3"/>
<circle cx="1093.20" cy="30.00" r="1.3" fill="#ff7f0e"/>
<polyline points="909.00,86.00 1001.10,96.10 1093.20,103.10" fill="none" stroke="#2ca02c" stroke-width="1.6" stroke-linejoin="round"/>
<line x1="909.00" y1="82.80" x2="909.00" y2="89.20" stroke="#2ca02c" stroke-width="1.3"/>
<line x1="906.50" y1="82.80" x2="911.50" y2="82.80" stroke="#2ca02c" stroke-width="1.3"/>
<line x1="906.50" y1="89.20" x2="911.50" y2="89.20" stroke="#2ca02c" stroke-width="1.3"/>
<circle cx="909.00" cy="86.00" r="1.3" fill="#2ca02c"/>
<line x1="1001.10" y1="92.90" x2="1001.10" y2="99.30" stroke="#2ca02c" stroke-width="1.3"/>
<line x1="998.60" y1="92.90" x2="1003.60" y2="92.90" stroke="#2ca02c" stroke-width="1.3"/>
<line x1="998.60" y1="99.30" x2="1003.60" y2="99.30" stroke="#2ca02c" stroke-width="1.3"/>
<circle cx="1001.10" cy="96.10" r="1.3" fill="#2ca02c"/>
<line x1="1093.20" y1="99.90" x2="1093.20" y2="106.30" stroke="#2ca02c" stroke-width="1.3"/>
<line x1="1090.70" y1="99.90" x2="1095.70" y2="99.90" stroke="#2ca02c" stroke-width="1.3"/>
<line x1="1090.70" y1="106.30" x2="1095.70" y2="106.30" stroke="#2ca02c" stroke-width="1.3"/>
<circle cx="1093.20" cy="103.10" r="1.3" fill="#2ca02c"/>
<polyline points="909.00,92.40 1001.10,84.80 1093.20,93.50" fill="none" stroke="#d62728" stroke-width="1.6" stroke-linejoin="round"/>
<line x1="909.00" y1="89.40" x2="909.00" y2="95.40" stroke="#d62728" stroke-width="1.3"/>
<line x1="906.50" y1="89.40" x2="911.50" y2="89.40" stroke="#d62728" stroke-width="1.3"/>
<line x1="906.50" y1="95.40" x2="911.50" y2="95.40" stroke="#d62728" stroke-width="1.3"/>
<circle cx="909.00" cy="92.40" r="1.3" fill="#d62728"/>
<line x1="1001.10" y1="81.80" x2="1001.10" y2="87.80" stroke="#d62728" stroke-width="1.3"/>
<line x1="998.60" y1="81.80" x2="1003.60" y2="81.80" stroke="#d62728" stroke-width="1.3"/>
<line x1="998.60" y1="87.80" x2="1003.60" y2="87.80" stroke="#d62728" stroke-width="1.3"/>
<circle cx="1001.10" cy="84.80" r="1.3" fill="#d62728"/>
<line x1="1093.20" y1="90.50" x2="1093.20" y2="96.50" stroke="#d62728" stroke-width="1.3"/>
<line x1="1090.70" y1="90.50" x2="1095.70" y2="90.50" stroke="#d62728" stroke-width="1.3"/>
<line x1="1090.70" y1="96.50" x2="1095.70" y2="96.50" stroke="#d62728" stroke-width="1.3"/>
<circle cx="1093.20" cy="93.50" r="1.3" fill="#d62728"/>
<line x1="1115.20" y1="54.10" x2="1142.90" y2="54.10" stroke="#1f77b4" stroke-width="1.6"/>
<line x1="1129.10" y1="47.40" x2="1129.10" y2="60.80" stroke="#1f77b4" stroke-width="1.2"/>
<line x1="1126.80" y1="47.40" x2="1131.40" y2="47.40" stroke="#1f77b4" stroke-width="1.2"/>
<line x1="1126.80" y1="60.80" x2="1131.40" y2="60.80" stroke="#1f77b4" stroke-width="1.2"/>
<text x="1152.2" y="59.1" font-family='"Liberation Serif", serif' font-size="15" font-weight="normal" text-anchor="start" fill="#1a1a1a" textLength="95.0" lengthAdjust="spacingAndGlyphs" stroke="#1a1a1a" stroke-width="0.15">Spatial-Spatial</text>
<line x1="1115.20" y1="73.13" x2="1142.90" y2="73.13" stroke="#ff7f0e" stroke-width="1.6"/>
<line x1="1129.10" y1="66.43" x2="1129.10" y2="79.83" stroke="#ff7f0e" stroke-width="1.2"/>
<line x1="1126.80" y1="66.43" x2="1131.40" y2="66.43" stroke="#ff7f0e" stroke-width="1.2"/>
<line x1="1126.80" y1="79.83" x2="1131.40" y2="79.83" stroke="#ff7f0e" stroke-width="1.2"/>
<text x="1152.2" y="78.1" font-family='"Liberation Serif", serif' font-size="15" font-weight="normal" text-anchor="start" fill="#1a1a1a" textLength="88.5" lengthAdjust="spacingAndGlyphs" stroke="#1a1a1a" stroke-width="0.15">Spatial-Visual</text>
<line x1="1115.20" y1="92.16" x2="1142.90" y2="92.16" stroke="#2ca02c" stroke-width="1.6"/>
<line x1="1129.10" y1="85.46" x2="1129.10" y2="98.86" stroke="#2ca02c" stroke-width="1.2"/>
<line x1="1126.80" y1="85.46" x2="1131.40" y2="85.46" stroke="#2ca02c" stroke-width="1.2"/>
<line x1="1126.80" y1="98.86" x2="1131.40" y2="98.86" stroke="#2ca02c" stroke-width="1.2"/>
<text x="1152.2" y="97.2" font-family='"Liberation Serif", serif' font-size="15" font-weight="normal" text-anchor="start" fill="#1a1a1a" textLength="89.0" lengthAdjust="spacingAndGlyphs" stroke="#1a1a1a" stroke-width="0.15">Visual-Spatial</text>
<line x1="1115.20" y1="111.19" x2="1142.90" y2="111.19" stroke="#d62728" stroke-width="1.6"/>
<line x1="1129.10" y1="104.49" x2="1129.10" y2="117.89" stroke="#d62728" stroke-width="1.2"/>
<line x1="1126.80" y1="104.49" x2="1131.40" y2="104.49" stroke="#d62728" stroke-width="1.2"/>
<line x1="1126.80" y1="117.89" x2="1131.40" y2="117.89" stroke="#d62728" stroke-width="1.2"/>
<text x="1152.2" y="116.2" font-family='"Liberation Serif", serif' font-size="15" font-weight="normal" text-anchor="start" fill="#1a1a1a" textLength="82.0" lengthAdjust="spacingAndGlyphs" stroke="#1a1a1a" stroke-width="0.15">Visual-Visual</text>
<line x1="1132.30" y1="147.40" x2="1132.30" y2="248.88" stroke="#3a3a3a" stroke-width="1.15"/>
<line x1="1131.72" y1="248.30" x2="1229.60" y2="248.30" stroke="#3a3a3a" stroke-width="1.15"/>
<line x1="1128.80" y1="147.40" x2="1132.30" y2="147.40" stroke="#3a3a3a" stroke-width="1"/>
<text x="1128.3" y="153.2" font-family='"Liberation Serif", serif' font-size="15.5" font-weight="normal" text-anchor="end" fill="#1a1a1a" textLength="25.0" lengthAdjust="spacingAndGlyphs" stroke="#1a1a1a" stroke-width="0.1">1.0</text>
<line x1="1128.80" y1="176.50" x2="1132.30" y2="176.50" stroke="#3a3a3a" stroke-width="1"/>
<text x="1128.3" y="182.3" font-family='"Liberation Serif", serif' font-size="15.5" font-weight="normal" text-anchor="end" fill="#1a1a1a" textLength="25.0" lengthAdjust="spacingAndGlyphs" stroke="#1a1a1a" stroke-width="0.1">0.8</text>
<line x1="1128.80" y1="205.30" x2="1132.30" y2="205.30" stroke="#3a3a3a" stroke-width="1"/>
<text x="1128.3" y="211.1" font-family='"Liberation Serif", serif' font-size="15.5" font-weight="normal" text-anchor="end" fill="#1a1a1a" textLength="25.0" lengthAdjust="spacingAndGlyphs" stroke="#1a1a1a" stroke-width="0.1">0.6</text>
<line x1="1128.80" y1="234.10" x2="1132.30" y2="234.10" stroke="#3a3a3a" stroke-width="1"/>
<text x="1128.3" y="239.9" font-family='"Liberation Serif", serif' font-size="15.5" font-weight="normal" text-anchor="end" fill="#1a1a1a" textLength="25.0" lengthAdjust="spacingAndGlyphs" stroke="#1a1a1a" stroke-width="0.1">0.4</text>
<line x1="1147.50" y1="248.30" x2="1147.50" y2="251.80" stroke="#3a3a3a" stroke-width="1"/>
<line x1="1181.40" y1="248.30" x2="1181.40" y2="251.80" stroke="#3a3a3a" stroke-width="1"/>
<line x1="1214.70" y1="248.30" x2="1214.70" y2="251.80" stroke="#3a3a3a" stroke-width="1"/>
<text x="1171.0" y="164.7" font-family='"Liberation Sans", sans-serif' font-size="15.7" font-weight="bold" text-anchor="start" fill="#000" textLength="51.5" lengthAdjust="spacingAndGlyphs">Human</text>
<polyline points="1157.80,187.90 1184.80,196.40 1211.70,205.20" fill="none" stroke="#1f77b4" stroke-width="1.6" stroke-linejoin="round"/>
<circle cx="1157.80" cy="187.90" r="3.2" fill="#1f77b4"/>
<circle cx="1184.80" cy="196.40" r="3.2" fill="#1f77b4"/>
<circle cx="1211.70" cy="205.20" r="3.2" fill="#1f77b4"/>
<polyline points="1137.30,179.90 1162.80,188.50 1182.80,205.20" fill="none" stroke="#ff7f0e" stroke-width="1.6" stroke-linejoin="round"/>
<circle cx="1137.30" cy="179.90" r="3.2" fill="#ff7f0e"/>
<circle cx="1162.80" cy="188.50" r="3.2" fill="#ff7f0e"/>
<circle cx="1182.80" cy="205.20" r="3.2" fill="#ff7f0e"/>
<polyline points="1157.80,193.80 1189.70,209.40 1225.20,229.80" fill="none" stroke="#2ca02c" stroke-width="1.6" stroke-linejoin="round"/>
<circle cx="1157.80" cy="193.80" r="3.2" fill="#2ca02c"/>
<circle cx="1189.70" cy="209.40" r="3.2" fill="#2ca02c"/>
<circle cx="1225.20" cy="229.80" r="3.2" fill="#2ca02c"/>
<polyline points="1138.90,191.50 1164.20,212.20 1187.70,216.20" fill="none" stroke="#d62728" stroke-width="1.6" stroke-linejoin="round"/>
<circle cx="1138.90" cy="191.50" r="3.2" fill="#d62728"/>
<circle cx="1164.20" cy="212.20" r="3.2" fill="#d62728"/>
<circle cx="1187.70" cy="216.20" r="3.2" fill="#d62728"/>
<text x="0.5" y="333.6" font-family='"Liberation Serif", serif' font-size="24" font-weight="bold" text-anchor="start" fill="#000" stroke="#000" stroke-width="0.3">D</text>
<line x1="71.00" y1="323.00" x2="71.00" y2="541.08" stroke="#3a3a3a" stroke-width="1.15"/>
<line x1="70.42" y1="540.50" x2="290.00" y2="540.50" stroke="#3a3a3a" stroke-width="1.15"/>
<line x1="67.50" y1="325.00" x2="71.00" y2="325.00" stroke="#3a3a3a" stroke-width="1"/>
<text x="63.5" y="330.8" font-family='"Liberation Serif", serif' font-size="17" font-weight="normal" text-anchor="end" fill="#1a1a1a" textLength="25.2" lengthAdjust="spacingAndGlyphs" stroke="#1a1a1a" stroke-width="0.1">1.0</text>
<line x1="67.50" y1="368.10" x2="71.00" y2="368.10" stroke="#3a3a3a" stroke-width="1"/>
<text x="63.5" y="373.9" font-family='"Liberation Serif", serif' font-size="17" font-weight="normal" text-anchor="end" fill="#1a1a1a" textLength="25.2" lengthAdjust="spacingAndGlyphs" stroke="#1a1a1a" stroke-width="0.1">0.8</text>
<line x1="67.50" y1="411.20" x2="71.00" y2="411.20" stroke="#3a3a3a" stroke-width="1"/>
<text x="63.5" y="417.0" font-family='"Liberation Serif", serif' font-size="17" font-weight="normal" text-anchor="end" fill="#1a1a1a" textLength="25.2" lengthAdjust="spacingAndGlyphs" stroke="#1a1a1a" stroke-width="0.1">0.6</text>
<line x1="67.50" y1="454.30" x2="71.00" y2="454.30" stroke="#3a3a3a" stroke-width="1"/>
<text x="63.5" y="460.1" font-family='"Liberation Serif", serif' font-size="17" font-weight="normal" text-anchor="end" fill="#1a1a1a" textLength="25.2" lengthAdjust="spacingAndGlyphs" stroke="#1a1a1a" stroke-width="0.1">0.4</text>
<line x1="67.50" y1="497.40" x2="71.00" y2="497.40" stroke="#3a3a3a" stroke-width="1"/>
<text x="63.5" y="503.2" font-family='"Liberation Serif", serif' font-size="17" font-weight="normal" text-anchor="end" fill="#1a1a1a" textLength="25.2" lengthAdjust="spacingAndGlyphs" stroke="#1a1a1a" stroke-width="0.1">0.2</text>
<line x1="67.50" y1="540.50" x2="71.00" y2="540.50" stroke="#3a3a3a" stroke-width="1"/>
<text x="63.5" y="546.3" font-family='"Liberation Serif", serif' font-size="17" font-weight="normal" text-anchor="end" fill="#1a1a1a" textLength="25.2" lengthAdjust="spacingAndGlyphs" stroke="#1a1a1a" stroke-width="0.1">0.0</text>
<line x1="80.10" y1="540.50" x2="80.10" y2="544.00" stroke="#3a3a3a" stroke-width="1"/>
<text x="80.1" y="558.8" font-family='"Liberation Serif", serif' font-size="17" font-weight="normal" text-anchor="middle" fill="#1a1a1a" stroke="#1a1a1a" stroke-width="0.1">1</text>
<line x1="108.57" y1="540.50" x2="108.57" y2="544.00" stroke="#3a3a3a" stroke-width="1"/>
<text x="108.6" y="558.8" font-family='"Liberation Serif", serif' font-size="17" font-weight="normal" text-anchor="middle" fill="#1a1a1a" stroke="#1a1a1a" stroke-width="0.1">2</text>
<line x1="137.04" y1="540.50" x2="137.04" y2="544.00" stroke="#3a3a3a" stroke-width="1"/>
<text x="137.0" y="558.8" font-family='"Liberation Serif", serif' font-size="17" font-weight="normal" text-anchor="middle" fill="#1a1a1a" stroke="#1a1a1a" stroke-width="0.1">3</text>
<line x1="165.51" y1="540.50" x2="165.51" y2="544.00" stroke="#3a3a3a" stroke-width="1"/>
<text x="165.5" y="558.8" font-family='"Liberation Serif", serif' font-size="17" font-weight="normal" text-anchor="middle" fill="#1a1a1a" stroke="#1a1a1a" stroke-width="0.1">4</text>
<line x1="193.98" y1="540.50" x2="193.98" y2="544.00" stroke="#3a3a3a" stroke-width="1"/>
<text x="194.0" y="558.8" font-family='"Liberation Serif", serif' font-size="17" font-weight="normal" text-anchor="middle" fill="#1a1a1a" stroke="#1a1a1a" stroke-width="0.1">5</text>
<line x1="222.45" y1="540.50" x2="222.45" y2="544.00" stroke="#3a3a3a" stroke-width="1"/>
<text x="222.4" y="558.8" font-family='"Liberation Serif", serif' font-size="17" font-weight="normal" text-anchor="middle" fill="#1a1a1a" stroke="#1a1a1a" stroke-width="0.1">6</text>
<line x1="250.92" y1="540.50" x2="250.92" y2="544.00" stroke="#3a3a3a" stroke-width="1"/>
<text x="250.9" y="558.8" font-family='"Liberation Serif", serif' font-size="17" font-weight="normal" text-anchor="middle" fill="#1a1a1a" stroke="#1a1a1a" stroke-width="0.1">7</text>
<line x1="279.39" y1="540.50" x2="279.39" y2="544.00" stroke="#3a3a3a" stroke-width="1"/>
<text x="279.4" y="558.8" font-family='"Liberation Serif", serif' font-size="17" font-weight="normal" text-anchor="middle" fill="#1a1a1a" stroke="#1a1a1a" stroke-width="0.1">8</text>
<text x="140.3" y="580.4" font-family='"Liberation Serif", serif' font-size="22.5" font-weight="normal" text-anchor="start" fill="#1a1a1a" textLength="80.0" lengthAdjust="spacingAndGlyphs" stroke="#1a1a1a" stroke-width="0.15">Set Size</text>
<text transform="translate(31.7,508.3) rotate(-90)" x="0" y="0" font-family='"Liberation Serif", serif' font-size="23" fill="#1a1a1a" stroke="#1a1a1a" stroke-width="0.15" textLength="153.1" lengthAdjust="spacingAndGlyphs">Top-1 Accuracy</text>
<polyline points="80.10,325.00 108.57,325.00 137.04,325.00 165.51,325.00 193.98,372.20 222.45,396.00 250.92,407.40 279.39,419.70" fill="none" stroke="#f4896b" stroke-width="1.6" stroke-linejoin="round"/>
<line x1="80.10" y1="325.00" x2="80.10" y2="325.00" stroke="#f4896b" stroke-width="1.2"/>
<line x1="77.10" y1="325.00" x2="83.10" y2="325.00" stroke="#f4896b" stroke-width="1.2"/>
<line x1="77.10" y1="325.00" x2="83.10" y2="325.00" stroke="#f4896b" stroke-width="1.2"/>
<circle cx="80.10" cy="325.00" r="1.5" fill="#f4896b"/>
<line x1="108.57" y1="325.00" x2="108.57" y2="325.00" stroke="#f4896b" stroke-width="1.2"/>
<line x1="105.57" y1="325.00" x2="111.57" y2="325.00" stroke="#f4896b" stroke-width="1.2"/>
<line x1="105.57" y1="325.00" x2="111.57" y2="325.00" stroke="#f4896b" stroke-width="1.2"/>
<circle cx="108.57" cy="325.00" r="1.5" fill="#f4896b"/>
<line x1="137.04" y1="325.00" x2="137.04" y2="325.00" stroke="#f4896b" stroke-width="1.2"/>
<line x1="134.04" y1="325.00" x2="140.04" y2="325.00" stroke="#f4896b" stroke-width="1.2"/>
<line x1="134.04" y1="325.00" x2="140.04" y2="325.00" stroke="#f4896b" stroke-width="1.2"/>
<circle cx="137.04" cy="325.00" r="1.5" fill="#f4896b"/>
<line x1="165.51" y1="325.00" x2="165.51" y2="325.00" stroke="#f4896b" stroke-width="1.2"/>
<line x1="162.51" y1="325.00" x2="168.51" y2="325.00" stroke="#f4896b" stroke-width="1.2"/>
<line x1="162.51" y1="325.00" x2="168.51" y2="325.00" stroke="#f4896b" stroke-width="1.2"/>
<circle cx="165.51" cy="325.00" r="1.5" fill="#f4896b"/>
<line x1="193.98" y1="370.70" x2="193.98" y2="373.70" stroke="#f4896b" stroke-width="1.2"/>
<line x1="190.98" y1="370.70" x2="196.98" y2="370.70" stroke="#f4896b" stroke-width="1.2"/>
<line x1="190.98" y1="373.70" x2="196.98" y2="373.70" stroke="#f4896b" stroke-width="1.2"/>
<circle cx="193.98" cy="372.20" r="1.5" fill="#f4896b"/>
<line x1="222.45" y1="394.50" x2="222.45" y2="397.50" stroke="#f4896b" stroke-width="1.2"/>
<line x1="219.45" y1="394.50" x2="225.45" y2="394.50" stroke="#f4896b" stroke-width="1.2"/>
<line x1="219.45" y1="397.50" x2="225.45" y2="397.50" stroke="#f4896b" stroke-width="1.2"/>
<circle cx="222.45" cy="396.00" r="1.5" fill="#f4896b"/>
<line x1="250.92" y1="406.20" x2="250.92" y2="408.60" stroke="#f4896b" stroke-width="1.2"/>
<line x1="247.92" y1="406.20" x2="253.92" y2="406.20" stroke="#f4896b" stroke-width="1.2"/>
<line x1="247.92" y1="408.60" x2="253.92" y2="408.60" stroke="#f4896b" stroke-width="1.2"/>
<circle cx="250.92" cy="407.40" r="1.5" fill="#f4896b"/>
<line x1="279.39" y1="418.20" x2="279.39" y2="421.20" stroke="#f4896b" stroke-width="1.2"/>
<line x1="276.39" y1="418.20" x2="282.39" y2="418.20" stroke="#f4896b" stroke-width="1.2"/>
<line x1="276.39" y1="421.20" x2="282.39" y2="421.20" stroke="#f4896b" stroke-width="1.2"/>
<circle cx="279.39" cy="419.70" r="1.5" fill="#f4896b"/>
<polyline points="80.10,325.00 108.57,325.00 137.04,325.00 165.51,325.00 193.98,325.00 222.45,326.20 250.92,325.00 279.39,325.00" fill="none" stroke="#d6382b" stroke-width="1.6" stroke-linejoin="round"/>
<line x1="80.10" y1="325.00" x2="80.10" y2="325.00" stroke="#d6382b" stroke-width="1.2"/>
<line x1="77.10" y1="325.00" x2="83.10" y2="325.00" stroke="#d6382b" stroke-width="1.2"/>
<line x1="77.10" y1="325.00" x2="83.10" y2="325.00" stroke="#d6382b" stroke-width="1.2"/>
<circle cx="80.10" cy="325.00" r="1.5" fill="#d6382b"/>
<line x1="108.57" y1="325.00" x2="108.57" y2="325.00" stroke="#d6382b" stroke-width="1.2"/>
<line x1="105.57" y1="325.00" x2="111.57" y2="325.00" stroke="#d6382b" stroke-width="1.2"/>
<line x1="105.57" y1="325.00" x2="111.57" y2="325.00" stroke="#d6382b" stroke-width="1.2"/>
<circle cx="108.57" cy="325.00" r="1.5" fill="#d6382b"/>
<line x1="137.04" y1="325.00" x2="137.04" y2="325.00" stroke="#d6382b" stroke-width="1.2"/>
<line x1="134.04" y1="325.00" x2="140.04" y2="325.00" stroke="#d6382b" stroke-width="1.2"/>
<line x1="134.04" y1="325.00" x2="140.04" y2="325.00" stroke="#d6382b" stroke-width="1.2"/>
<circle cx="137.04" cy="325.00" r="1.5" fill="#d6382b"/>
<line x1="165.51" y1="325.00" x2="165.51" y2="325.00" stroke="#d6382b" stroke-width="1.2"/>
<line x1="162.51" y1="325.00" x2="168.51" y2="325.00" stroke="#d6382b" stroke-width="1.2"/>
<line x1="162.51" y1="325.00" x2="168.51" y2="325.00" stroke="#d6382b" stroke-width="1.2"/>
<circle cx="165.51" cy="325.00" r="1.5" fill="#d6382b"/>
<line x1="193.98" y1="325.00" x2="193.98" y2="325.00" stroke="#d6382b" stroke-width="1.2"/>
<line x1="190.98" y1="325.00" x2="196.98" y2="325.00" stroke="#d6382b" stroke-width="1.2"/>
<line x1="190.98" y1="325.00" x2="196.98" y2="325.00" stroke="#d6382b" stroke-width="1.2"/>
<circle cx="193.98" cy="325.00" r="1.5" fill="#d6382b"/>
<line x1="222.45" y1="326.20" x2="222.45" y2="326.20" stroke="#d6382b" stroke-width="1.2"/>
<line x1="219.45" y1="326.20" x2="225.45" y2="326.20" stroke="#d6382b" stroke-width="1.2"/>
<line x1="219.45" y1="326.20" x2="225.45" y2="326.20" stroke="#d6382b" stroke-width="1.2"/>
<circle cx="222.45" cy="326.20" r="1.5" fill="#d6382b"/>
<line x1="250.92" y1="325.00" x2="250.92" y2="325.00" stroke="#d6382b" stroke-width="1.2"/>
<line x1="247.92" y1="325.00" x2="253.92" y2="325.00" stroke="#d6382b" stroke-width="1.2"/>
<line x1="247.92" y1="325.00" x2="253.92" y2="325.00" stroke="#d6382b" stroke-width="1.2"/>
<circle cx="250.92" cy="325.00" r="1.5" fill="#d6382b"/>
<line x1="279.39" y1="325.00" x2="279.39" y2="325.00" stroke="#d6382b" stroke-width="1.2"/>
<line x1="276.39" y1="325.00" x2="282.39" y2="325.00" stroke="#d6382b" stroke-width="1.2"/>
<line x1="276.39" y1="325.00" x2="282.39" y2="325.00" stroke="#d6382b" stroke-width="1.2"/>
<circle cx="279.39" cy="325.00" r="1.5" fill="#d6382b"/>
<polyline points="80.10,325.00 108.57,325.00 137.04,325.00 165.51,325.00 193.98,325.00 222.45,325.00 250.92,325.00 279.39,325.00" fill="none" stroke="#861b1e" stroke-width="1.6" stroke-linejoin="round"/>
<line x1="80.10" y1="325.00" x2="80.10" y2="325.00" stroke="#861b1e" stroke-width="1.2"/>
<line x1="77.10" y1="325.00" x2="83.10" y2="325.00" stroke="#861b1e" stroke-width="1.2"/>
<line x1="77.10" y1="325.00" x2="83.10" y2="325.00" stroke="#861b1e" stroke-width="1.2"/>
<circle cx="80.10" cy="325.00" r="1.5" fill="#861b1e"/>
<line x1="108.57" y1="325.00" x2="108.57" y2="325.00" stroke="#861b1e" stroke-width="1.2"/>
<line x1="105.57" y1="325.00" x2="111.57" y2="325.00" stroke="#861b1e" stroke-width="1.2"/>
<line x1="105.57" y1="325.00" x2="111.57" y2="325.00" stroke="#861b1e" stroke-width="1.2"/>
<circle cx="108.57" cy="325.00" r="1.5" fill="#861b1e"/>
<line x1="137.04" y1="325.00" x2="137.04" y2="325.00" stroke="#861b1e" stroke-width="1.2"/>
<line x1="134.04" y1="325.00" x2="140.04" y2="325.00" stroke="#861b1e" stroke-width="1.2"/>
<line x1="134.04" y1="325.00" x2="140.04" y2="325.00" stroke="#861b1e" stroke-width="1.2"/>
<circle cx="137.04" cy="325.00" r="1.5" fill="#861b1e"/>
<line x1="165.51" y1="325.00" x2="165.51" y2="325.00" stroke="#861b1e" stroke-width="1.2"/>
<line x1="162.51" y1="325.00" x2="168.51" y2="325.00" stroke="#861b1e" stroke-width="1.2"/>
<line x1="162.51" y1="325.00" x2="168.51" y2="325.00" stroke="#861b1e" stroke-width="1.2"/>
<circle cx="165.51" cy="325.00" r="1.5" fill="#861b1e"/>
<line x1="193.98" y1="325.00" x2="193.98" y2="325.00" stroke="#861b1e" stroke-width="1.2"/>
<line x1="190.98" y1="325.00" x2="196.98" y2="325.00" stroke="#861b1e" stroke-width="1.2"/>
<line x1="190.98" y1="325.00" x2="196.98" y2="325.00" stroke="#861b1e" stroke-width="1.2"/>
<circle cx="193.98" cy="325.00" r="1.5" fill="#861b1e"/>
<line x1="222.45" y1="325.00" x2="222.45" y2="325.00" stroke="#861b1e" stroke-width="1.2"/>
<line x1="219.45" y1="325.00" x2="225.45" y2="325.00" stroke="#861b1e" stroke-width="1.2"/>
<line x1="219.45" y1="325.00" x2="225.45" y2="325.00" stroke="#861b1e" stroke-width="1.2"/>
<circle cx="222.45" cy="325.00" r="1.5" fill="#861b1e"/>
<line x1="250.92" y1="325.00" x2="250.92" y2="325.00" stroke="#861b1e" stroke-width="1.2"/>
<line x1="247.92" y1="325.00" x2="253.92" y2="325.00" stroke="#861b1e" stroke-width="1.2"/>
<line x1="247.92" y1="325.00" x2="253.92" y2="325.00" stroke="#861b1e" stroke-width="1.2"/>
<circle cx="250.92" cy="325.00" r="1.5" fill="#861b1e"/>
<line x1="279.39" y1="325.00" x2="279.39" y2="325.00" stroke="#861b1e" stroke-width="1.2"/>
<line x1="276.39" y1="325.00" x2="282.39" y2="325.00" stroke="#861b1e" stroke-width="1.2"/>
<line x1="276.39" y1="325.00" x2="282.39" y2="325.00" stroke="#861b1e" stroke-width="1.2"/>
<circle cx="279.39" cy="325.00" r="1.5" fill="#861b1e"/>
<polyline points="80.10,325.00 108.57,325.00 137.04,325.00 165.51,325.00 193.98,325.00 222.45,361.00 250.92,383.70 279.39,400.70" fill="none" stroke="#a8a4cf" stroke-width="1.6" stroke-linejoin="round"/>
<line x1="80.10" y1="325.00" x2="80.10" y2="325.00" stroke="#a8a4cf" stroke-width="1.2"/>
<line x1="77.10" y1="325.00" x2="83.10" y2="325.00" stroke="#a8a4cf" stroke-width="1.2"/>
<line x1="77.10" y1="325.00" x2="83.10" y2="325.00" stroke="#a8a4cf" stroke-width="1.2"/>
<circle cx="80.10" cy="325.00" r="1.5" fill="#a8a4cf"/>
<line x1="108.57" y1="325.00" x2="108.57" y2="325.00" stroke="#a8a4cf" stroke-width="1.2"/>
<line x1="105.57" y1="325.00" x2="111.57" y2="325.00" stroke="#a8a4cf" stroke-width="1.2"/>
<line x1="105.57" y1="325.00" x2="111.57" y2="325.00" stroke="#a8a4cf" stroke-width="1.2"/>
<circle cx="108.57" cy="325.00" r="1.5" fill="#a8a4cf"/>
<line x1="137.04" y1="325.00" x2="137.04" y2="325.00" stroke="#a8a4cf" stroke-width="1.2"/>
<line x1="134.04" y1="325.00" x2="140.04" y2="325.00" stroke="#a8a4cf" stroke-width="1.2"/>
<line x1="134.04" y1="325.00" x2="140.04" y2="325.00" stroke="#a8a4cf" stroke-width="1.2"/>
<circle cx="137.04" cy="325.00" r="1.5" fill="#a8a4cf"/>
<line x1="165.51" y1="325.00" x2="165.51" y2="325.00" stroke="#a8a4cf" stroke-width="1.2"/>
<line x1="162.51" y1="325.00" x2="168.51" y2="325.00" stroke="#a8a4cf" stroke-width="1.2"/>
<line x1="162.51" y1="325.00" x2="168.51" y2="325.00" stroke="#a8a4cf" stroke-width="1.2"/>
<circle cx="165.51" cy="325.00" r="1.5" fill="#a8a4cf"/>
<line x1="193.98" y1="325.00" x2="193.98" y2="325.00" stroke="#a8a4cf" stroke-width="1.2"/>
<line x1="190.98" y1="325.00" x2="196.98" y2="325.00" stroke="#a8a4cf" stroke-width="1.2"/>
<line x1="190.98" y1="325.00" x2="196.98" y2="325.00" stroke="#a8a4cf" stroke-width="1.2"/>
<circle cx="193.98" cy="325.00" r="1.5" fill="#a8a4cf"/>
<line x1="222.45" y1="359.50" x2="222.45" y2="362.50" stroke="#a8a4cf" stroke-width="1.2"/>
<line x1="219.45" y1="359.50" x2="225.45" y2="359.50" stroke="#a8a4cf" stroke-width="1.2"/>
<line x1="219.45" y1="362.50" x2="225.45" y2="362.50" stroke="#a8a4cf" stroke-width="1.2"/>
<circle cx="222.45" cy="361.00" r="1.5" fill="#a8a4cf"/>
<line x1="250.92" y1="382.50" x2="250.92" y2="384.90" stroke="#a8a4cf" stroke-width="1.2"/>
<line x1="247.92" y1="382.50" x2="253.92" y2="382.50" stroke="#a8a4cf" stroke-width="1.2"/>
<line x1="247.92" y1="384.90" x2="253.92" y2="384.90" stroke="#a8a4cf" stroke-width="1.2"/>
<circle cx="250.92" cy="383.70" r="1.5" fill="#a8a4cf"/>
<line x1="279.39" y1="399.20" x2="279.39" y2="402.20" stroke="#a8a4cf" stroke-width="1.2"/>
<line x1="276.39" y1="399.20" x2="282.39" y2="399.20" stroke="#a8a4cf" stroke-width="1.2"/>
<line x1="276.39" y1="402.20" x2="282.39" y2="402.20" stroke="#a8a4cf" stroke-width="1.2"/>
<circle cx="279.39" cy="400.70" r="1.5" fill="#a8a4cf"/>
<polyline points="80.10,325.00 108.57,325.00 137.04,325.00 165.51,325.00 193.98,325.00 222.45,325.00 250.92,325.00 279.39,325.00" fill="none" stroke="#4b2a8a" stroke-width="1.6" stroke-linejoin="round"/>
<line x1="80.10" y1="325.00" x2="80.10" y2="325.00" stroke="#4b2a8a" stroke-width="1.2"/>
<line x1="77.10" y1="325.00" x2="83.10" y2="325.00" stroke="#4b2a8a" stroke-width="1.2"/>
<line x1="77.10" y1="325.00" x2="83.10" y2="325.00" stroke="#4b2a8a" stroke-width="1.2"/>
<circle cx="80.10" cy="325.00" r="1.5" fill="#4b2a8a"/>
<line x1="108.57" y1="325.00" x2="108.57" y2="325.00" stroke="#4b2a8a" stroke-width="1.2"/>
<line x1="105.57" y1="325.00" x2="111.57" y2="325.00" stroke="#4b2a8a" stroke-width="1.2"/>
<line x1="105.57" y1="325.00" x2="111.57" y2="325.00" stroke="#4b2a8a" stroke-width="1.2"/>
<circle cx="108.57" cy="325.00" r="1.5" fill="#4b2a8a"/>
<line x1="137.04" y1="325.00" x2="137.04" y2="325.00" stroke="#4b2a8a" stroke-width="1.2"/>
<line x1="134.04" y1="325.00" x2="140.04" y2="325.00" stroke="#4b2a8a" stroke-width="1.2"/>
<line x1="134.04" y1="325.00" x2="140.04" y2="325.00" stroke="#4b2a8a" stroke-width="1.2"/>
<circle cx="137.04" cy="325.00" r="1.5" fill="#4b2a8a"/>
<line x1="165.51" y1="325.00" x2="165.51" y2="325.00" stroke="#4b2a8a" stroke-width="1.2"/>
<line x1="162.51" y1="325.00" x2="168.51" y2="325.00" stroke="#4b2a8a" stroke-width="1.2"/>
<line x1="162.51" y1="325.00" x2="168.51" y2="325.00" stroke="#4b2a8a" stroke-width="1.2"/>
<circle cx="165.51" cy="325.00" r="1.5" fill="#4b2a8a"/>
<line x1="193.98" y1="325.00" x2="193.98" y2="325.00" stroke="#4b2a8a" stroke-width="1.2"/>
<line x1="190.98" y1="325.00" x2="196.98" y2="325.00" stroke="#4b2a8a" stroke-width="1.2"/>
<line x1="190.98" y1="325.00" x2="196.98" y2="325.00" stroke="#4b2a8a" stroke-width="1.2"/>
<circle cx="193.98" cy="325.00" r="1.5" fill="#4b2a8a"/>
<line x1="222.45" y1="325.00" x2="222.45" y2="325.00" stroke="#4b2a8a" stroke-width="1.2"/>
<line x1="219.45" y1="325.00" x2="225.45" y2="325.00" stroke="#4b2a8a" stroke-width="1.2"/>
<line x1="219.45" y1="325.00" x2="225.45" y2="325.00" stroke="#4b2a8a" stroke-width="1.2"/>
<circle cx="222.45" cy="325.00" r="1.5" fill="#4b2a8a"/>
<line x1="250.92" y1="325.00" x2="250.92" y2="325.00" stroke="#4b2a8a" stroke-width="1.2"/>
<line x1="247.92" y1="325.00" x2="253.92" y2="325.00" stroke="#4b2a8a" stroke-width="1.2"/>
<line x1="247.92" y1="325.00" x2="253.92" y2="325.00" stroke="#4b2a8a" stroke-width="1.2"/>
<circle cx="250.92" cy="325.00" r="1.5" fill="#4b2a8a"/>
<line x1="279.39" y1="325.00" x2="279.39" y2="325.00" stroke="#4b2a8a" stroke-width="1.2"/>
<line x1="276.39" y1="325.00" x2="282.39" y2="325.00" stroke="#4b2a8a" stroke-width="1.2"/>
<line x1="276.39" y1="325.00" x2="282.39" y2="325.00" stroke="#4b2a8a" stroke-width="1.2"/>
<circle cx="279.39" cy="325.00" r="1.5" fill="#4b2a8a"/>
<polyline points="80.10,325.00 108.57,325.00 137.04,325.00 165.51,325.00 193.98,325.00 222.45,325.00 250.92,331.20 279.39,358.20" fill="none" stroke="#7a70b4" stroke-width="1.6" stroke-linejoin="round"/>
<line x1="80.10" y1="325.00" x2="80.10" y2="325.00" stroke="#7a70b4" stroke-width="1.2"/>
<line x1="77.10" y1="325.00" x2="83.10" y2="325.00" stroke="#7a70b4" stroke-width="1.2"/>
<line x1="77.10" y1="325.00" x2="83.10" y2="325.00" stroke="#7a70b4" stroke-width="1.2"/>
<circle cx="80.10" cy="325.00" r="1.5" fill="#7a70b4"/>
<line x1="108.57" y1="325.00" x2="108.57" y2="325.00" stroke="#7a70b4" stroke-width="1.2"/>
<line x1="105.57" y1="325.00" x2="111.57" y2="325.00" stroke="#7a70b4" stroke-width="1.2"/>
<line x1="105.57" y1="325.00" x2="111.57" y2="325.00" stroke="#7a70b4" stroke-width="1.2"/>
<circle cx="108.57" cy="325.00" r="1.5" fill="#7a70b4"/>
<line x1="137.04" y1="325.00" x2="137.04" y2="325.00" stroke="#7a70b4" stroke-width="1.2"/>
<line x1="134.04" y1="325.00" x2="140.04" y2="325.00" stroke="#7a70b4" stroke-width="1.2"/>
<line x1="134.04" y1="325.00" x2="140.04" y2="325.00" stroke="#7a70b4" stroke-width="1.2"/>
<circle cx="137.04" cy="325.00" r="1.5" fill="#7a70b4"/>
<line x1="165.51" y1="325.00" x2="165.51" y2="325.00" stroke="#7a70b4" stroke-width="1.2"/>
<line x1="162.51" y1="325.00" x2="168.51" y2="325.00" stroke="#7a70b4" stroke-width="1.2"/>
<line x1="162.51" y1="325.00" x2="168.51" y2="325.00" stroke="#7a70b4" stroke-width="1.2"/>
<circle cx="165.51" cy="325.00" r="1.5" fill="#7a70b4"/>
<line x1="193.98" y1="325.00" x2="193.98" y2="325.00" stroke="#7a70b4" stroke-width="1.2"/>
<line x1="190.98" y1="325.00" x2="196.98" y2="325.00" stroke="#7a70b4" stroke-width="1.2"/>
<line x1="190.98" y1="325.00" x2="196.98" y2="325.00" stroke="#7a70b4" stroke-width="1.2"/>
<circle cx="193.98" cy="325.00" r="1.5" fill="#7a70b4"/>
<line x1="222.45" y1="325.00" x2="222.45" y2="325.00" stroke="#7a70b4" stroke-width="1.2"/>
<line x1="219.45" y1="325.00" x2="225.45" y2="325.00" stroke="#7a70b4" stroke-width="1.2"/>
<line x1="219.45" y1="325.00" x2="225.45" y2="325.00" stroke="#7a70b4" stroke-width="1.2"/>
<circle cx="222.45" cy="325.00" r="1.5" fill="#7a70b4"/>
<line x1="250.92" y1="329.70" x2="250.92" y2="332.70" stroke="#7a70b4" stroke-width="1.2"/>
<line x1="247.92" y1="329.70" x2="253.92" y2="329.70" stroke="#7a70b4" stroke-width="1.2"/>
<line x1="247.92" y1="332.70" x2="253.92" y2="332.70" stroke="#7a70b4" stroke-width="1.2"/>
<circle cx="250.92" cy="331.20" r="1.5" fill="#7a70b4"/>
<line x1="279.39" y1="356.70" x2="279.39" y2="359.70" stroke="#7a70b4" stroke-width="1.2"/>
<line x1="276.39" y1="356.70" x2="282.39" y2="356.70" stroke="#7a70b4" stroke-width="1.2"/>
<line x1="276.39" y1="359.70" x2="282.39" y2="359.70" stroke="#7a70b4" stroke-width="1.2"/>
<circle cx="279.39" cy="358.20" r="1.5" fill="#7a70b4"/>
<polyline points="80.10,443.10 108.57,497.10 137.04,486.30 165.51,497.30 193.98,494.50 222.45,493.40 250.92,490.20 279.39,489.10" fill="none" stroke="#a6cde3" stroke-width="1.6" stroke-linejoin="round"/>
<line x1="80.10" y1="440.10" x2="80.10" y2="446.10" stroke="#a6cde3" stroke-width="1.2"/>
<line x1="77.10" y1="440.10" x2="83.10" y2="440.10" stroke="#a6cde3" stroke-width="1.2"/>
<line x1="77.10" y1="446.10" x2="83.10" y2="446.10" stroke="#a6cde3" stroke-width="1.2"/>
<circle cx="80.10" cy="443.10" r="1.5" fill="#a6cde3"/>
<line x1="108.57" y1="494.60" x2="108.57" y2="499.60" stroke="#a6cde3" stroke-width="1.2"/>
<line x1="105.57" y1="494.60" x2="111.57" y2="494.60" stroke="#a6cde3" stroke-width="1.2"/>
<line x1="105.57" y1="499.60" x2="111.57" y2="499.60" stroke="#a6cde3" stroke-width="1.2"/>
<circle cx="108.57" cy="497.10" r="1.5" fill="#a6cde3"/>
<line x1="137.04" y1="484.80" x2="137.04" y2="487.80" stroke="#a6cde3" stroke-width="1.2"/>
<line x1="134.04" y1="484.80" x2="140.04" y2="484.80" stroke="#a6cde3" stroke-width="1.2"/>
<line x1="134.04" y1="487.80" x2="140.04" y2="487.80" stroke="#a6cde3" stroke-width="1.2"/>
<circle cx="137.04" cy="486.30" r="1.5" fill="#a6cde3"/>
<line x1="165.51" y1="496.10" x2="165.51" y2="498.50" stroke="#a6cde3" stroke-width="1.2"/>
<line x1="162.51" y1="496.10" x2="168.51" y2="496.10" stroke="#a6cde3" stroke-width="1.2"/>
<line x1="162.51" y1="498.50" x2="168.51" y2="498.50" stroke="#a6cde3" stroke-width="1.2"/>
<circle cx="165.51" cy="497.30" r="1.5" fill="#a6cde3"/>
<line x1="193.98" y1="493.30" x2="193.98" y2="495.70" stroke="#a6cde3" stroke-width="1.2"/>
<line x1="190.98" y1="493.30" x2="196.98" y2="493.30" stroke="#a6cde3" stroke-width="1.2"/>
<line x1="190.98" y1="495.70" x2="196.98" y2="495.70" stroke="#a6cde3" stroke-width="1.2"/>
<circle cx="193.98" cy="494.50" r="1.5" fill="#a6cde3"/>
<line x1="222.45" y1="492.20" x2="222.45" y2="494.60" stroke="#a6cde3" stroke-width="1.2"/>
<line x1="219.45" y1="492.20" x2="225.45" y2="492.20" stroke="#a6cde3" stroke-width="1.2"/>
<line x1="219.45" y1="494.60" x2="225.45" y2="494.60" stroke="#a6cde3" stroke-width="1.2"/>
<circle cx="222.45" cy="493.40" r="1.5" fill="#a6cde3"/>
<line x1="250.92" y1="489.00" x2="250.92" y2="491.40" stroke="#a6cde3" stroke-width="1.2"/>
<line x1="247.92" y1="489.00" x2="253.92" y2="489.00" stroke="#a6cde3" stroke-width="1.2"/>
<line x1="247.92" y1="491.40" x2="253.92" y2="491.40" stroke="#a6cde3" stroke-width="1.2"/>
<circle cx="250.92" cy="490.20" r="1.5" fill="#a6cde3"/>
<line x1="279.39" y1="487.90" x2="279.39" y2="490.30" stroke="#a6cde3" stroke-width="1.2"/>
<line x1="276.39" y1="487.90" x2="282.39" y2="487.90" stroke="#a6cde3" stroke-width="1.2"/>
<line x1="276.39" y1="490.30" x2="282.39" y2="490.30" stroke="#a6cde3" stroke-width="1.2"/>
<circle cx="279.39" cy="489.10" r="1.5" fill="#a6cde3"/>
<polyline points="80.10,333.40 108.57,433.00 137.04,465.80 165.51,481.50 193.98,477.90 222.45,480.40 250.92,479.80 279.39,478.90" fill="none" stroke="#4a8fc4" stroke-width="1.6" stroke-linejoin="round"/>
<line x1="80.10" y1="330.90" x2="80.10" y2="335.90" stroke="#4a8fc4" stroke-width="1.2"/>
<line x1="77.10" y1="330.90" x2="83.10" y2="330.90" stroke="#4a8fc4" stroke-width="1.2"/>
<line x1="77.10" y1="335.90" x2="83.10" y2="335.90" stroke="#4a8fc4" stroke-width="1.2"/>
<circle cx="80.10" cy="333.40" r="1.5" fill="#4a8fc4"/>
<line x1="108.57" y1="430.50" x2="108.57" y2="435.50" stroke="#4a8fc4" stroke-width="1.2"/>
<line x1="105.57" y1="430.50" x2="111.57" y2="430.50" stroke="#4a8fc4" stroke-width="1.2"/>
<line x1="105.57" y1="435.50" x2="111.57" y2="435.50" stroke="#4a8fc4" stroke-width="1.2"/>
<circle cx="108.57" cy="433.00" r="1.5" fill="#4a8fc4"/>
<line x1="137.04" y1="463.80" x2="137.04" y2="467.80" stroke="#4a8fc4" stroke-width="1.2"/>
<line x1="134.04" y1="463.80" x2="140.04" y2="463.80" stroke="#4a8fc4" stroke-width="1.2"/>
<line x1="134.04" y1="467.80" x2="140.04" y2="467.80" stroke="#4a8fc4" stroke-width="1.2"/>
<circle cx="137.04" cy="465.80" r="1.5" fill="#4a8fc4"/>
<line x1="165.51" y1="480.00" x2="165.51" y2="483.00" stroke="#4a8fc4" stroke-width="1.2"/>
<line x1="162.51" y1="480.00" x2="168.51" y2="480.00" stroke="#4a8fc4" stroke-width="1.2"/>
<line x1="162.51" y1="483.00" x2="168.51" y2="483.00" stroke="#4a8fc4" stroke-width="1.2"/>
<circle cx="165.51" cy="481.50" r="1.5" fill="#4a8fc4"/>
<line x1="193.98" y1="476.70" x2="193.98" y2="479.10" stroke="#4a8fc4" stroke-width="1.2"/>
<line x1="190.98" y1="476.70" x2="196.98" y2="476.70" stroke="#4a8fc4" stroke-width="1.2"/>
<line x1="190.98" y1="479.10" x2="196.98" y2="479.10" stroke="#4a8fc4" stroke-width="1.2"/>
<circle cx="193.98" cy="477.90" r="1.5" fill="#4a8fc4"/>
<line x1="222.45" y1="479.20" x2="222.45" y2="481.60" stroke="#4a8fc4" stroke-width="1.2"/>
<line x1="219.45" y1="479.20" x2="225.45" y2="479.20" stroke="#4a8fc4" stroke-width="1.2"/>
<line x1="219.45" y1="481.60" x2="225.45" y2="481.60" stroke="#4a8fc4" stroke-width="1.2"/>
<circle cx="222.45" cy="480.40" r="1.5" fill="#4a8fc4"/>
<line x1="250.92" y1="478.60" x2="250.92" y2="481.00" stroke="#4a8fc4" stroke-width="1.2"/>
<line x1="247.92" y1="478.60" x2="253.92" y2="478.60" stroke="#4a8fc4" stroke-width="1.2"/>
<line x1="247.92" y1="481.00" x2="253.92" y2="481.00" stroke="#4a8fc4" stroke-width="1.2"/>
<circle cx="250.92" cy="479.80" r="1.5" fill="#4a8fc4"/>
<line x1="279.39" y1="477.70" x2="279.39" y2="480.10" stroke="#4a8fc4" stroke-width="1.2"/>
<line x1="276.39" y1="477.70" x2="282.39" y2="477.70" stroke="#4a8fc4" stroke-width="1.2"/>
<line x1="276.39" y1="480.10" x2="282.39" y2="480.10" stroke="#4a8fc4" stroke-width="1.2"/>
<circle cx="279.39" cy="478.90" r="1.5" fill="#4a8fc4"/>
<polyline points="80.10,388.40 108.57,381.30 137.04,431.40 165.51,448.50 193.98,457.30 222.45,460.40 250.92,465.30 279.39,467.10" fill="none" stroke="#1c4e8f" stroke-width="1.6" stroke-linejoin="round"/>
<line x1="80.10" y1="385.90" x2="80.10" y2="390.90" stroke="#1c4e8f" stroke-width="1.2"/>
<line x1="77.10" y1="385.90" x2="83.10" y2="385.90" stroke="#1c4e8f" stroke-width="1.2"/>
<line x1="77.10" y1="390.90" x2="83.10" y2="390.90" stroke="#1c4e8f" stroke-width="1.2"/>
<circle cx="80.10" cy="388.40" r="1.5" fill="#1c4e8f"/>
<line x1="108.57" y1="378.80" x2="108.57" y2="383.80" stroke="#1c4e8f" stroke-width="1.2"/>
<line x1="105.57" y1="378.80" x2="111.57" y2="378.80" stroke="#1c4e8f" stroke-width="1.2"/>
<line x1="105.57" y1="383.80" x2="111.57" y2="383.80" stroke="#1c4e8f" stroke-width="1.2"/>
<circle cx="108.57" cy="381.30" r="1.5" fill="#1c4e8f"/>
<line x1="137.04" y1="429.90" x2="137.04" y2="432.90" stroke="#1c4e8f" stroke-width="1.2"/>
<line x1="134.04" y1="429.90" x2="140.04" y2="429.90" stroke="#1c4e8f" stroke-width="1.2"/>
<line x1="134.04" y1="432.90" x2="140.04" y2="432.90" stroke="#1c4e8f" stroke-width="1.2"/>
<circle cx="137.04" cy="431.40" r="1.5" fill="#1c4e8f"/>
<line x1="165.51" y1="447.30" x2="165.51" y2="449.70" stroke="#1c4e8f" stroke-width="1.2"/>
<line x1="162.51" y1="447.30" x2="168.51" y2="447.30" stroke="#1c4e8f" stroke-width="1.2"/>
<line x1="162.51" y1="449.70" x2="168.51" y2="449.70" stroke="#1c4e8f" stroke-width="1.2"/>
<circle cx="165.51" cy="448.50" r="1.5" fill="#1c4e8f"/>
<line x1="193.98" y1="456.10" x2="193.98" y2="458.50" stroke="#1c4e8f" stroke-width="1.2"/>
<line x1="190.98" y1="456.10" x2="196.98" y2="456.10" stroke="#1c4e8f" stroke-width="1.2"/>
<line x1="190.98" y1="458.50" x2="196.98" y2="458.50" stroke="#1c4e8f" stroke-width="1.2"/>
<circle cx="193.98" cy="457.30" r="1.5" fill="#1c4e8f"/>
<line x1="222.45" y1="459.20" x2="222.45" y2="461.60" stroke="#1c4e8f" stroke-width="1.2"/>
<line x1="219.45" y1="459.20" x2="225.45" y2="459.20" stroke="#1c4e8f" stroke-width="1.2"/>
<line x1="219.45" y1="461.60" x2="225.45" y2="461.60" stroke="#1c4e8f" stroke-width="1.2"/>
<circle cx="222.45" cy="460.40" r="1.5" fill="#1c4e8f"/>
<line x1="250.92" y1="464.10" x2="250.92" y2="466.50" stroke="#1c4e8f" stroke-width="1.2"/>
<line x1="247.92" y1="464.10" x2="253.92" y2="464.10" stroke="#1c4e8f" stroke-width="1.2"/>
<line x1="247.92" y1="466.50" x2="253.92" y2="466.50" stroke="#1c4e8f" stroke-width="1.2"/>
<circle cx="250.92" cy="465.30" r="1.5" fill="#1c4e8f"/>
<line x1="279.39" y1="465.90" x2="279.39" y2="468.30" stroke="#1c4e8f" stroke-width="1.2"/>
<line x1="276.39" y1="465.90" x2="282.39" y2="465.90" stroke="#1c4e8f" stroke-width="1.2"/>
<line x1="276.39" y1="468.30" x2="282.39" y2="468.30" stroke="#1c4e8f" stroke-width="1.2"/>
<circle cx="279.39" cy="467.10" r="1.5" fill="#1c4e8f"/>
<polyline points="80.10,329.50 108.57,325.00 137.04,325.00 165.51,325.00 193.98,325.00 222.45,325.00 250.92,325.00 279.39,325.00" fill="none" stroke="#a4d8a0" stroke-width="1.6" stroke-linejoin="round"/>
<line x1="80.10" y1="328.00" x2="80.10" y2="331.00" stroke="#a4d8a0" stroke-width="1.2"/>
<line x1="77.10" y1="328.00" x2="83.10" y2="328.00" stroke="#a4d8a0" stroke-width="1.2"/>
<line x1="77.10" y1="331.00" x2="83.10" y2="331.00" stroke="#a4d8a0" stroke-width="1.2"/>
<circle cx="80.10" cy="329.50" r="1.5" fill="#a4d8a0"/>
<line x1="108.57" y1="325.00" x2="108.57" y2="325.00" stroke="#a4d8a0" stroke-width="1.2"/>
<line x1="105.57" y1="325.00" x2="111.57" y2="325.00" stroke="#a4d8a0" stroke-width="1.2"/>
<line x1="105.57" y1="325.00" x2="111.57" y2="325.00" stroke="#a4d8a0" stroke-width="1.2"/>
<circle cx="108.57" cy="325.00" r="1.5" fill="#a4d8a0"/>
<line x1="137.04" y1="325.00" x2="137.04" y2="325.00" stroke="#a4d8a0" stroke-width="1.2"/>
<line x1="134.04" y1="325.00" x2="140.04" y2="325.00" stroke="#a4d8a0" stroke-width="1.2"/>
<line x1="134.04" y1="325.00" x2="140.04" y2="325.00" stroke="#a4d8a0" stroke-width="1.2"/>
<circle cx="137.04" cy="325.00" r="1.5" fill="#a4d8a0"/>
<line x1="165.51" y1="325.00" x2="165.51" y2="325.00" stroke="#a4d8a0" stroke-width="1.2"/>
<line x1="162.51" y1="325.00" x2="168.51" y2="325.00" stroke="#a4d8a0" stroke-width="1.2"/>
<line x1="162.51" y1="325.00" x2="168.51" y2="325.00" stroke="#a4d8a0" stroke-width="1.2"/>
<circle cx="165.51" cy="325.00" r="1.5" fill="#a4d8a0"/>
<line x1="193.98" y1="325.00" x2="193.98" y2="325.00" stroke="#a4d8a0" stroke-width="1.2"/>
<line x1="190.98" y1="325.00" x2="196.98" y2="325.00" stroke="#a4d8a0" stroke-width="1.2"/>
<line x1="190.98" y1="325.00" x2="196.98" y2="325.00" stroke="#a4d8a0" stroke-width="1.2"/>
<circle cx="193.98" cy="325.00" r="1.5" fill="#a4d8a0"/>
<line x1="222.45" y1="325.00" x2="222.45" y2="325.00" stroke="#a4d8a0" stroke-width="1.2"/>
<line x1="219.45" y1="325.00" x2="225.45" y2="325.00" stroke="#a4d8a0" stroke-width="1.2"/>
<line x1="219.45" y1="325.00" x2="225.45" y2="325.00" stroke="#a4d8a0" stroke-width="1.2"/>
<circle cx="222.45" cy="325.00" r="1.5" fill="#a4d8a0"/>
<line x1="250.92" y1="325.00" x2="250.92" y2="325.00" stroke="#a4d8a0" stroke-width="1.2"/>
<line x1="247.92" y1="325.00" x2="253.92" y2="325.00" stroke="#a4d8a0" stroke-width="1.2"/>
<line x1="247.92" y1="325.00" x2="253.92" y2="325.00" stroke="#a4d8a0" stroke-width="1.2"/>
<circle cx="250.92" cy="325.00" r="1.5" fill="#a4d8a0"/>
<line x1="279.39" y1="325.00" x2="279.39" y2="325.00" stroke="#a4d8a0" stroke-width="1.2"/>
<line x1="276.39" y1="325.00" x2="282.39" y2="325.00" stroke="#a4d8a0" stroke-width="1.2"/>
<line x1="276.39" y1="325.00" x2="282.39" y2="325.00" stroke="#a4d8a0" stroke-width="1.2"/>
<circle cx="279.39" cy="325.00" r="1.5" fill="#a4d8a0"/>
<polyline points="80.10,325.40 108.57,325.00 137.04,325.00 165.51,325.00 193.98,325.00 222.45,325.00 250.92,325.00 279.39,325.00" fill="none" stroke="#4ba35c" stroke-width="1.6" stroke-linejoin="round"/>
<line x1="80.10" y1="324.20" x2="80.10" y2="326.60" stroke="#4ba35c" stroke-width="1.2"/>
<line x1="77.10" y1="324.20" x2="83.10" y2="324.20" stroke="#4ba35c" stroke-width="1.2"/>
<line x1="77.10" y1="326.60" x2="83.10" y2="326.60" stroke="#4ba35c" stroke-width="1.2"/>
<circle cx="80.10" cy="325.40" r="1.5" fill="#4ba35c"/>
<line x1="108.57" y1="325.00" x2="108.57" y2="325.00" stroke="#4ba35c" stroke-width="1.2"/>
<line x1="105.57" y1="325.00" x2="111.57" y2="325.00" stroke="#4ba35c" stroke-width="1.2"/>
<line x1="105.57" y1="325.00" x2="111.57" y2="325.00" stroke="#4ba35c" stroke-width="1.2"/>
<circle cx="108.57" cy="325.00" r="1.5" fill="#4ba35c"/>
<line x1="137.04" y1="325.00" x2="137.04" y2="325.00" stroke="#4ba35c" stroke-width="1.2"/>
<line x1="134.04" y1="325.00" x2="140.04" y2="325.00" stroke="#4ba35c" stroke-width="1.2"/>
<line x1="134.04" y1="325.00" x2="140.04" y2="325.00" stroke="#4ba35c" stroke-width="1.2"/>
<circle cx="137.04" cy="325.00" r="1.5" fill="#4ba35c"/>
<line x1="165.51" y1="325.00" x2="165.51" y2="325.00" stroke="#4ba35c" stroke-width="1.2"/>
<line x1="162.51" y1="325.00" x2="168.51" y2="325.00" stroke="#4ba35c" stroke-width="1.2"/>
<line x1="162.51" y1="325.00" x2="168.51" y2="325.00" stroke="#4ba35c" stroke-width="1.2"/>
<circle cx="165.51" cy="325.00" r="1.5" fill="#4ba35c"/>
<line x1="193.98" y1="325.00" x2="193.98" y2="325.00" stroke="#4ba35c" stroke-width="1.2"/>
<line x1="190.98" y1="325.00" x2="196.98" y2="325.00" stroke="#4ba35c" stroke-width="1.2"/>
<line x1="190.98" y1="325.00" x2="196.98" y2="325.00" stroke="#4ba35c" stroke-width="1.2"/>
<circle cx="193.98" cy="325.00" r="1.5" fill="#4ba35c"/>
<line x1="222.45" y1="325.00" x2="222.45" y2="325.00" stroke="#4ba35c" stroke-width="1.2"/>
<line x1="219.45" y1="325.00" x2="225.45" y2="325.00" stroke="#4ba35c" stroke-width="1.2"/>
<line x1="219.45" y1="325.00" x2="225.45" y2="325.00" stroke="#4ba35c" stroke-width="1.2"/>
<circle cx="222.45" cy="325.00" r="1.5" fill="#4ba35c"/>
<line x1="250.92" y1="325.00" x2="250.92" y2="325.00" stroke="#4ba35c" stroke-width="1.2"/>
<line x1="247.92" y1="325.00" x2="253.92" y2="325.00" stroke="#4ba35c" stroke-width="1.2"/>
<line x1="247.92" y1="325.00" x2="253.92" y2="325.00" stroke="#4ba35c" stroke-width="1.2"/>
<circle cx="250.92" cy="325.00" r="1.5" fill="#4ba35c"/>
<line x1="279.39" y1="325.00" x2="279.39" y2="325.00" stroke="#4ba35c" stroke-width="1.2"/>
<line x1="276.39" y1="325.00" x2="282.39" y2="325.00" stroke="#4ba35c" stroke-width="1.2"/>
<line x1="276.39" y1="325.00" x2="282.39" y2="325.00" stroke="#4ba35c" stroke-width="1.2"/>
<circle cx="279.39" cy="325.00" r="1.5" fill="#4ba35c"/>
<polyline points="80.10,344.10 108.57,326.90 137.04,325.00 165.51,325.00 193.98,325.00 222.45,325.00 250.92,325.00 279.39,325.00" fill="none" stroke="#1b6b36" stroke-width="2.0" stroke-linejoin="round"/>
<line x1="80.10" y1="342.60" x2="80.10" y2="345.60" stroke="#1b6b36" stroke-width="1.2"/>
<line x1="77.10" y1="342.60" x2="83.10" y2="342.60" stroke="#1b6b36" stroke-width="1.2"/>
<line x1="77.10" y1="345.60" x2="83.10" y2="345.60" stroke="#1b6b36" stroke-width="1.2"/>
<circle cx="80.10" cy="344.10" r="2.0" fill="#1b6b36"/>
<line x1="108.57" y1="325.90" x2="108.57" y2="327.90" stroke="#1b6b36" stroke-width="1.2"/>
<line x1="105.57" y1="325.90" x2="111.57" y2="325.90" stroke="#1b6b36" stroke-width="1.2"/>
<line x1="105.57" y1="327.90" x2="111.57" y2="327.90" stroke="#1b6b36" stroke-width="1.2"/>
<circle cx="108.57" cy="326.90" r="2.0" fill="#1b6b36"/>
<line x1="137.04" y1="325.00" x2="137.04" y2="325.00" stroke="#1b6b36" stroke-width="1.2"/>
<line x1="134.04" y1="325.00" x2="140.04" y2="325.00" stroke="#1b6b36" stroke-width="1.2"/>
<line x1="134.04" y1="325.00" x2="140.04" y2="325.00" stroke="#1b6b36" stroke-width="1.2"/>
<circle cx="137.04" cy="325.00" r="2.0" fill="#1b6b36"/>
<line x1="165.51" y1="325.00" x2="165.51" y2="325.00" stroke="#1b6b36" stroke-width="1.2"/>
<line x1="162.51" y1="325.00" x2="168.51" y2="325.00" stroke="#1b6b36" stroke-width="1.2"/>
<line x1="162.51" y1="325.00" x2="168.51" y2="325.00" stroke="#1b6b36" stroke-width="1.2"/>
<circle cx="165.51" cy="325.00" r="2.0" fill="#1b6b36"/>
<line x1="193.98" y1="325.00" x2="193.98" y2="325.00" stroke="#1b6b36" stroke-width="1.2"/>
<line x1="190.98" y1="325.00" x2="196.98" y2="325.00" stroke="#1b6b36" stroke-width="1.2"/>
<line x1="190.98" y1="325.00" x2="196.98" y2="325.00" stroke="#1b6b36" stroke-width="1.2"/>
<circle cx="193.98" cy="325.00" r="2.0" fill="#1b6b36"/>
<line x1="222.45" y1="325.00" x2="222.45" y2="325.00" stroke="#1b6b36" stroke-width="1.2"/>
<line x1="219.45" y1="325.00" x2="225.45" y2="325.00" stroke="#1b6b36" stroke-width="1.2"/>
<line x1="219.45" y1="325.00" x2="225.45" y2="325.00" stroke="#1b6b36" stroke-width="1.2"/>
<circle cx="222.45" cy="325.00" r="2.0" fill="#1b6b36"/>
<line x1="250.92" y1="325.00" x2="250.92" y2="325.00" stroke="#1b6b36" stroke-width="1.2"/>
<line x1="247.92" y1="325.00" x2="253.92" y2="325.00" stroke="#1b6b36" stroke-width="1.2"/>
<line x1="247.92" y1="325.00" x2="253.92" y2="325.00" stroke="#1b6b36" stroke-width="1.2"/>
<circle cx="250.92" cy="325.00" r="2.0" fill="#1b6b36"/>
<line x1="279.39" y1="325.00" x2="279.39" y2="325.00" stroke="#1b6b36" stroke-width="1.2"/>
<line x1="276.39" y1="325.00" x2="282.39" y2="325.00" stroke="#1b6b36" stroke-width="1.2"/>
<line x1="276.39" y1="325.00" x2="282.39" y2="325.00" stroke="#1b6b36" stroke-width="1.2"/>
<circle cx="279.39" cy="325.00" r="2.0" fill="#1b6b36"/>
<polyline points="80.10,325.00 108.57,338.10 137.04,362.90 165.51,394.20" fill="none" stroke="#000" stroke-width="1.9" stroke-linejoin="round" stroke-dasharray="5.5,2.6"/>
<circle cx="80.10" cy="325.00" r="3.0" fill="#000"/>
<circle cx="108.57" cy="338.10" r="3.0" fill="#000"/>
<circle cx="137.04" cy="362.90" r="3.0" fill="#000"/>
<circle cx="165.51" cy="394.20" r="3.0" fill="#000"/>
<line x1="310.50" y1="328.80" x2="337.10" y2="328.80" stroke="#f4896b" stroke-width="1.6"/>
<line x1="323.50" y1="322.60" x2="323.50" y2="335.00" stroke="#f4896b" stroke-width="1.2"/>
<line x1="321.20" y1="322.60" x2="325.80" y2="322.60" stroke="#f4896b" stroke-width="1.2"/>
<line x1="321.20" y1="335.00" x2="325.80" y2="335.00" stroke="#f4896b" stroke-width="1.2"/>
<text x="346.3" y="333.8" font-family='"Liberation Serif", serif' font-size="15" font-weight="normal" text-anchor="start" fill="#1a1a1a" textLength="58.0" lengthAdjust="spacingAndGlyphs" stroke="#1a1a1a" stroke-width="0.15">LSTM-96</text>
<line x1="310.50" y1="347.31" x2="337.10" y2="347.31" stroke="#d6382b" stroke-width="1.6"/>
<line x1="323.50" y1="341.11" x2="323.50" y2="353.51" stroke="#d6382b" stroke-width="1.2"/>
<line x1="321.20" y1="341.11" x2="325.80" y2="341.11" stroke="#d6382b" stroke-width="1.2"/>
<line x1="321.20" y1="353.51" x2="325.80" y2="353.51" stroke="#d6382b" stroke-width="1.2"/>
<text x="346.3" y="352.3" font-family='"Liberation Serif", serif' font-size="15" font-weight="normal" text-anchor="start" fill="#1a1a1a" textLength="66.0" lengthAdjust="spacingAndGlyphs" stroke="#1a1a1a" stroke-width="0.15">LSTM-256</text>
<line x1="310.50" y1="365.82" x2="337.10" y2="365.82" stroke="#861b1e" stroke-width="1.6"/>
<line x1="323.50" y1="359.62" x2="323.50" y2="372.02" stroke="#861b1e" stroke-width="1.2"/>
<line x1="321.20" y1="359.62" x2="325.80" y2="359.62" stroke="#861b1e" stroke-width="1.2"/>
<line x1="321.20" y1="372.02" x2="325.80" y2="372.02" stroke="#861b1e" stroke-width="1.2"/>
<text x="346.3" y="370.8" font-family='"Liberation Serif", serif' font-size="15" font-weight="normal" text-anchor="start" fill="#1a1a1a" textLength="73.5" lengthAdjust="spacingAndGlyphs" stroke="#1a1a1a" stroke-width="0.15">LSTM-1024</text>
<line x1="310.50" y1="384.33" x2="337.10" y2="384.33" stroke="#a8a4cf" stroke-width="1.6"/>
<line x1="323.50" y1="378.13" x2="323.50" y2="390.53" stroke="#a8a4cf" stroke-width="1.2"/>
<line x1="321.20" y1="378.13" x2="325.80" y2="378.13" stroke="#a8a4cf" stroke-width="1.2"/>
<line x1="321.20" y1="390.53" x2="325.80" y2="390.53" stroke="#a8a4cf" stroke-width="1.2"/>
<text x="346.3" y="389.3" font-family='"Liberation Serif", serif' font-size="15" font-weight="normal" text-anchor="start" fill="#1a1a1a" textLength="49.8" lengthAdjust="spacingAndGlyphs" stroke="#1a1a1a" stroke-width="0.15">GRU-96</text>
<line x1="310.50" y1="402.84" x2="337.10" y2="402.84" stroke="#7a70b4" stroke-width="1.6"/>
<line x1="323.50" y1="396.64" x2="323.50" y2="409.04" stroke="#7a70b4" stroke-width="1.2"/>
<line x1="321.20" y1="396.64" x2="325.80" y2="396.64" stroke="#7a70b4" stroke-width="1.2"/>
<line x1="321.20" y1="409.04" x2="325.80" y2="409.04" stroke="#7a70b4" stroke-width="1.2"/>
<text x="346.3" y="407.8" font-family='"Liberation Serif", serif' font-size="15" font-weight="normal" text-anchor="start" fill="#1a1a1a" textLength="57.8" lengthAdjust="spacingAndGlyphs" stroke="#1a1a1a" stroke-width="0.15">GRU-256</text>
<line x1="310.50" y1="421.35" x2="337.10" y2="421.35" stroke="#4b2a8a" stroke-width="1.6"/>
<line x1="323.50" y1="415.15" x2="323.50" y2="427.55" stroke="#4b2a8a" stroke-width="1.2"/>
<line x1="321.20" y1="415.15" x2="325.80" y2="415.15" stroke="#4b2a8a" stroke-width="1.2"/>
<line x1="321.20" y1="427.55" x2="325.80" y2="427.55" stroke="#4b2a8a" stroke-width="1.2"/>
<text x="346.3" y="426.4" font-family='"Liberation Serif", serif' font-size="15" font-weight="normal" text-anchor="start" fill="#1a1a1a" textLength="64.6" lengthAdjust="spacingAndGlyphs" stroke="#1a1a1a" stroke-width="0.15">GRU-1024</text>
<line x1="310.50" y1="439.86" x2="337.10" y2="439.86" stroke="#a6cde3" stroke-width="1.6"/>
<line x1="323.50" y1="433.66" x2="323.50" y2="446.06" stroke="#a6cde3" stroke-width="1.2"/>
<line x1="321.20" y1="433.66" x2="325.80" y2="433.66" stroke="#a6cde3" stroke-width="1.2"/>
<line x1="321.20" y1="446.06" x2="325.80" y2="446.06" stroke="#a6cde3" stroke-width="1.2"/>
<text x="346.3" y="444.9" font-family='"Liberation Serif", serif' font-size="15" font-weight="normal" text-anchor="start" fill="#1a1a1a" textLength="51.2" lengthAdjust="spacingAndGlyphs" stroke="#1a1a1a" stroke-width="0.15">RNN-96</text>
<line x1="310.50" y1="458.37" x2="337.10" y2="458.37" stroke="#4a8fc4" stroke-width="1.6"/>
<line x1="323.50" y1="452.17" x2="323.50" y2="464.57" stroke="#4a8fc4" stroke-width="1.2"/>
<line x1="321.20" y1="452.17" x2="325.80" y2="452.17" stroke="#4a8fc4" stroke-width="1.2"/>
<line x1="321.20" y1="464.57" x2="325.80" y2="464.57" stroke="#4a8fc4" stroke-width="1.2"/>
<text x="346.3" y="463.4" font-family='"Liberation Serif", serif' font-size="15" font-weight="normal" text-anchor="start" fill="#1a1a1a" textLength="59.3" lengthAdjust="spacingAndGlyphs" stroke="#1a1a1a" stroke-width="0.15">RNN-256</text>
<line x1="310.50" y1="476.88" x2="337.10" y2="476.88" stroke="#1c4e8f" stroke-width="1.6"/>
<line x1="323.50" y1="470.68" x2="323.50" y2="483.08" stroke="#1c4e8f" stroke-width="1.2"/>
<line x1="321.20" y1="470.68" x2="325.80" y2="470.68" stroke="#1c4e8f" stroke-width="1.2"/>
<line x1="321.20" y1="483.08" x2="325.80" y2="483.08" stroke="#1c4e8f" stroke-width="1.2"/>
<text x="346.3" y="481.9" font-family='"Liberation Serif", serif' font-size="15" font-weight="normal" text-anchor="start" fill="#1a1a1a" textLength="67.5" lengthAdjust="spacingAndGlyphs" stroke="#1a1a1a" stroke-width="0.15">RNN-1024</text>
<line x1="310.50" y1="495.39" x2="337.10" y2="495.39" stroke="#a4d8a0" stroke-width="1.6"/>
<line x1="323.50" y1="489.19" x2="323.50" y2="501.59" stroke="#a4d8a0" stroke-width="1.2"/>
<line x1="321.20" y1="489.19" x2="325.80" y2="489.19" stroke="#a4d8a0" stroke-width="1.2"/>
<line x1="321.20" y1="501.59" x2="325.80" y2="501.59" stroke="#a4d8a0" stroke-width="1.2"/>
<text x="346.3" y="500.4" font-family='"Liberation Serif", serif' font-size="15" font-weight="normal" text-anchor="start" fill="#1a1a1a" textLength="45.5" lengthAdjust="spacingAndGlyphs" stroke="#1a1a1a" stroke-width="0.15">TRF-96</text>
<line x1="310.50" y1="513.90" x2="337.10" y2="513.90" stroke="#4ba35c" stroke-width="1.6"/>
<line x1="323.50" y1="507.70" x2="323.50" y2="520.10" stroke="#4ba35c" stroke-width="1.2"/>
<line x1="321.20" y1="507.70" x2="325.80" y2="507.70" stroke="#4ba35c" stroke-width="1.2"/>
<line x1="321.20" y1="520.10" x2="325.80" y2="520.10" stroke="#4ba35c" stroke-width="1.2"/>
<text x="346.3" y="518.9" font-family='"Liberation Serif", serif' font-size="15" font-weight="normal" text-anchor="start" fill="#1a1a1a" textLength="53.5" lengthAdjust="spacingAndGlyphs" stroke="#1a1a1a" stroke-width="0.15">TRF-256</text>
<line x1="310.50" y1="532.41" x2="337.10" y2="532.41" stroke="#1b6b36" stroke-width="1.6"/>
<line x1="323.50" y1="526.21" x2="323.50" y2="538.61" stroke="#1b6b36" stroke-width="1.2"/>
<line x1="321.20" y1="526.21" x2="325.80" y2="526.21" stroke="#1b6b36" stroke-width="1.2"/>
<line x1="321.20" y1="538.61" x2="325.80" y2="538.61" stroke="#1b6b36" stroke-width="1.2"/>
<text x="346.3" y="537.4" font-family='"Liberation Serif", serif' font-size="15" font-weight="normal" text-anchor="start" fill="#1a1a1a" textLength="61.3" lengthAdjust="spacingAndGlyphs" stroke="#1a1a1a" stroke-width="0.15">TRF-1024</text>
<line x1="311.20" y1="550.92" x2="317.40" y2="550.92" stroke="#000" stroke-width="1.6"/>
<line x1="328.50" y1="550.92" x2="334.00" y2="550.92" stroke="#000" stroke-width="1.6"/>
<circle cx="323.50" cy="550.92" r="3" fill="#000"/>
<line x1="323.50" y1="546.42" x2="323.50" y2="555.42" stroke="#000" stroke-width="1.2"/>
<text x="346.3" y="555.9" font-family='"Liberation Serif", serif' font-size="15" font-weight="normal" text-anchor="start" fill="#1a1a1a" textLength="45.5" lengthAdjust="spacingAndGlyphs" stroke="#1a1a1a" stroke-width="0.15">Human</text>
<text x="426.8" y="336.5" font-family='"Liberation Serif", serif' font-size="24" font-weight="bold" text-anchor="start" fill="#000" stroke="#000" stroke-width="0.3">E</text>
<text x="607.0" y="331.8" font-family='"Liberation Sans", sans-serif' font-size="15.5" font-weight="bold" text-anchor="start" fill="#000" textLength="71.5" lengthAdjust="spacingAndGlyphs" stroke="#000" stroke-width="0.1">LSTM-256</text>
<line x1="509.60" y1="324.60" x2="509.60" y2="540.88" stroke="#3a3a3a" stroke-width="1.15"/>
<line x1="509.03" y1="540.30" x2="706.30" y2="540.30" stroke="#3a3a3a" stroke-width="1.15"/>
<line x1="506.10" y1="332.90" x2="509.60" y2="332.90" stroke="#3a3a3a" stroke-width="1"/>
<text x="501.9" y="338.7" font-family='"Liberation Serif", serif' font-size="17" font-weight="normal" text-anchor="end" fill="#1a1a1a" textLength="25.2" lengthAdjust="spacingAndGlyphs" stroke="#1a1a1a" stroke-width="0.1">1.0</text>
<line x1="506.10" y1="416.20" x2="509.60" y2="416.20" stroke="#3a3a3a" stroke-width="1"/>
<text x="501.9" y="422.0" font-family='"Liberation Serif", serif' font-size="17" font-weight="normal" text-anchor="end" fill="#1a1a1a" textLength="25.2" lengthAdjust="spacingAndGlyphs" stroke="#1a1a1a" stroke-width="0.1">0.9</text>
<line x1="506.10" y1="499.50" x2="509.60" y2="499.50" stroke="#3a3a3a" stroke-width="1"/>
<text x="501.9" y="505.3" font-family='"Liberation Serif", serif' font-size="17" font-weight="normal" text-anchor="end" fill="#1a1a1a" textLength="25.2" lengthAdjust="spacingAndGlyphs" stroke="#1a1a1a" stroke-width="0.1">0.8</text>
<line x1="518.10" y1="540.30" x2="518.10" y2="543.80" stroke="#3a3a3a" stroke-width="1"/>
<text x="518.1" y="559.7" font-family='"Liberation Serif", serif' font-size="17" font-weight="normal" text-anchor="middle" fill="#1a1a1a" stroke="#1a1a1a" stroke-width="0.1">1</text>
<line x1="563.00" y1="540.30" x2="563.00" y2="543.80" stroke="#3a3a3a" stroke-width="1"/>
<text x="563.0" y="559.7" font-family='"Liberation Serif", serif' font-size="17" font-weight="normal" text-anchor="middle" fill="#1a1a1a" stroke="#1a1a1a" stroke-width="0.1">2</text>
<line x1="607.90" y1="540.30" x2="607.90" y2="543.80" stroke="#3a3a3a" stroke-width="1"/>
<text x="607.9" y="559.7" font-family='"Liberation Serif", serif' font-size="17" font-weight="normal" text-anchor="middle" fill="#1a1a1a" stroke="#1a1a1a" stroke-width="0.1">3</text>
<line x1="652.80" y1="540.30" x2="652.80" y2="543.80" stroke="#3a3a3a" stroke-width="1"/>
<text x="652.8" y="559.7" font-family='"Liberation Serif", serif' font-size="17" font-weight="normal" text-anchor="middle" fill="#1a1a1a" stroke="#1a1a1a" stroke-width="0.1">4</text>
<line x1="697.70" y1="540.30" x2="697.70" y2="543.80" stroke="#3a3a3a" stroke-width="1"/>
<text x="697.7" y="559.7" font-family='"Liberation Serif", serif' font-size="17" font-weight="normal" text-anchor="middle" fill="#1a1a1a" stroke="#1a1a1a" stroke-width="0.1">5</text>
<text x="622.0" y="582.9" font-family='"Liberation Serif", serif' font-size="22.5" font-weight="normal" text-anchor="start" fill="#1a1a1a" textLength="142.0" lengthAdjust="spacingAndGlyphs" stroke="#1a1a1a" stroke-width="0.15">Serial Position</text>
<text transform="translate(470.0,509.1) rotate(-90)" x="0" y="0" font-family='"Liberation Serif", serif' font-size="23" fill="#1a1a1a" stroke="#1a1a1a" stroke-width="0.15" textLength="152.2" lengthAdjust="spacingAndGlyphs">Top-1 Accuracy</text>
<polyline points="518.10,432.40 563.00,452.30 607.90,465.60 652.80,469.00 697.70,462.30" fill="none" stroke="#1f77b4" stroke-width="1.6" stroke-linejoin="round"/>
<line x1="518.10" y1="415.40" x2="518.10" y2="449.40" stroke="#1f77b4" stroke-width="1.2"/>
<line x1="515.10" y1="415.40" x2="521.10" y2="415.40" stroke="#1f77b4" stroke-width="1.2"/>
<line x1="515.10" y1="449.40" x2="521.10" y2="449.40" stroke="#1f77b4" stroke-width="1.2"/>
<circle cx="518.10" cy="432.40" r="1.4" fill="#1f77b4"/>
<line x1="563.00" y1="433.80" x2="563.00" y2="470.80" stroke="#1f77b4" stroke-width="1.2"/>
<line x1="560.00" y1="433.80" x2="566.00" y2="433.80" stroke="#1f77b4" stroke-width="1.2"/>
<line x1="560.00" y1="470.80" x2="566.00" y2="470.80" stroke="#1f77b4" stroke-width="1.2"/>
<circle cx="563.00" cy="452.30" r="1.4" fill="#1f77b4"/>
<line x1="607.90" y1="446.60" x2="607.90" y2="484.60" stroke="#1f77b4" stroke-width="1.2"/>
<line x1="604.90" y1="446.60" x2="610.90" y2="446.60" stroke="#1f77b4" stroke-width="1.2"/>
<line x1="604.90" y1="484.60" x2="610.90" y2="484.60" stroke="#1f77b4" stroke-width="1.2"/>
<circle cx="607.90" cy="465.60" r="1.4" fill="#1f77b4"/>
<line x1="652.80" y1="449.50" x2="652.80" y2="488.50" stroke="#1f77b4" stroke-width="1.2"/>
<line x1="649.80" y1="449.50" x2="655.80" y2="449.50" stroke="#1f77b4" stroke-width="1.2"/>
<line x1="649.80" y1="488.50" x2="655.80" y2="488.50" stroke="#1f77b4" stroke-width="1.2"/>
<circle cx="652.80" cy="469.00" r="1.4" fill="#1f77b4"/>
<line x1="697.70" y1="443.60" x2="697.70" y2="481.00" stroke="#1f77b4" stroke-width="1.2"/>
<line x1="694.70" y1="443.60" x2="700.70" y2="443.60" stroke="#1f77b4" stroke-width="1.2"/>
<line x1="694.70" y1="481.00" x2="700.70" y2="481.00" stroke="#1f77b4" stroke-width="1.2"/>
<circle cx="697.70" cy="462.30" r="1.4" fill="#1f77b4"/>
<polyline points="518.10,388.40 563.00,395.70 607.90,434.90 652.80,418.90 697.70,423.20" fill="none" stroke="#ff7f0e" stroke-width="1.6" stroke-linejoin="round"/>
<line x1="518.10" y1="373.90" x2="518.10" y2="402.90" stroke="#ff7f0e" stroke-width="1.2"/>
<line x1="515.10" y1="373.90" x2="521.10" y2="373.90" stroke="#ff7f0e" stroke-width="1.2"/>
<line x1="515.10" y1="402.90" x2="521.10" y2="402.90" stroke="#ff7f0e" stroke-width="1.2"/>
<circle cx="518.10" cy="388.40" r="1.4" fill="#ff7f0e"/>
<line x1="563.00" y1="380.70" x2="563.00" y2="410.70" stroke="#ff7f0e" stroke-width="1.2"/>
<line x1="560.00" y1="380.70" x2="566.00" y2="380.70" stroke="#ff7f0e" stroke-width="1.2"/>
<line x1="560.00" y1="410.70" x2="566.00" y2="410.70" stroke="#ff7f0e" stroke-width="1.2"/>
<circle cx="563.00" cy="395.70" r="1.4" fill="#ff7f0e"/>
<line x1="607.90" y1="416.90" x2="607.90" y2="452.90" stroke="#ff7f0e" stroke-width="1.2"/>
<line x1="604.90" y1="416.90" x2="610.90" y2="416.90" stroke="#ff7f0e" stroke-width="1.2"/>
<line x1="604.90" y1="452.90" x2="610.90" y2="452.90" stroke="#ff7f0e" stroke-width="1.2"/>
<circle cx="607.90" cy="434.90" r="1.4" fill="#ff7f0e"/>
<line x1="652.80" y1="400.90" x2="652.80" y2="436.90" stroke="#ff7f0e" stroke-width="1.2"/>
<line x1="649.80" y1="400.90" x2="655.80" y2="400.90" stroke="#ff7f0e" stroke-width="1.2"/>
<line x1="649.80" y1="436.90" x2="655.80" y2="436.90" stroke="#ff7f0e" stroke-width="1.2"/>
<circle cx="652.80" cy="418.90" r="1.4" fill="#ff7f0e"/>
<line x1="697.70" y1="405.30" x2="697.70" y2="441.10" stroke="#ff7f0e" stroke-width="1.2"/>
<line x1="694.70" y1="405.30" x2="700.70" y2="405.30" stroke="#ff7f0e" stroke-width="1.2"/>
<line x1="694.70" y1="441.10" x2="700.70" y2="441.10" stroke="#ff7f0e" stroke-width="1.2"/>
<circle cx="697.70" cy="423.20" r="1.4" fill="#ff7f0e"/>
<polyline points="518.10,375.80 563.00,375.80 607.90,379.80 652.80,404.70 697.70,394.20" fill="none" stroke="#2ca02c" stroke-width="1.6" stroke-linejoin="round"/>
<line x1="518.10" y1="363.60" x2="518.10" y2="388.00" stroke="#2ca02c" stroke-width="1.2"/>
<line x1="515.10" y1="363.60" x2="521.10" y2="363.60" stroke="#2ca02c" stroke-width="1.2"/>
<line x1="515.10" y1="388.00" x2="521.10" y2="388.00" stroke="#2ca02c" stroke-width="1.2"/>
<circle cx="518.10" cy="375.80" r="1.4" fill="#2ca02c"/>
<line x1="563.00" y1="363.60" x2="563.00" y2="388.00" stroke="#2ca02c" stroke-width="1.2"/>
<line x1="560.00" y1="363.60" x2="566.00" y2="363.60" stroke="#2ca02c" stroke-width="1.2"/>
<line x1="560.00" y1="388.00" x2="566.00" y2="388.00" stroke="#2ca02c" stroke-width="1.2"/>
<circle cx="563.00" cy="375.80" r="1.4" fill="#2ca02c"/>
<line x1="607.90" y1="367.80" x2="607.90" y2="391.80" stroke="#2ca02c" stroke-width="1.2"/>
<line x1="604.90" y1="367.80" x2="610.90" y2="367.80" stroke="#2ca02c" stroke-width="1.2"/>
<line x1="604.90" y1="391.80" x2="610.90" y2="391.80" stroke="#2ca02c" stroke-width="1.2"/>
<circle cx="607.90" cy="379.80" r="1.4" fill="#2ca02c"/>
<line x1="652.80" y1="391.70" x2="652.80" y2="417.70" stroke="#2ca02c" stroke-width="1.2"/>
<line x1="649.80" y1="391.70" x2="655.80" y2="391.70" stroke="#2ca02c" stroke-width="1.2"/>
<line x1="649.80" y1="417.70" x2="655.80" y2="417.70" stroke="#2ca02c" stroke-width="1.2"/>
<circle cx="652.80" cy="404.70" r="1.4" fill="#2ca02c"/>
<line x1="697.70" y1="380.20" x2="697.70" y2="408.20" stroke="#2ca02c" stroke-width="1.2"/>
<line x1="694.70" y1="380.20" x2="700.70" y2="380.20" stroke="#2ca02c" stroke-width="1.2"/>
<line x1="694.70" y1="408.20" x2="700.70" y2="408.20" stroke="#2ca02c" stroke-width="1.2"/>
<circle cx="697.70" cy="394.20" r="1.4" fill="#2ca02c"/>
<polyline points="518.10,377.40 563.00,363.90 607.90,374.80 652.80,388.20 697.70,384.40" fill="none" stroke="#d62728" stroke-width="1.6" stroke-linejoin="round"/>
<line x1="518.10" y1="364.90" x2="518.10" y2="389.90" stroke="#d62728" stroke-width="1.2"/>
<line x1="515.10" y1="364.90" x2="521.10" y2="364.90" stroke="#d62728" stroke-width="1.2"/>
<line x1="515.10" y1="389.90" x2="521.10" y2="389.90" stroke="#d62728" stroke-width="1.2"/>
<circle cx="518.10" cy="377.40" r="1.4" fill="#d62728"/>
<line x1="563.00" y1="352.90" x2="563.00" y2="374.90" stroke="#d62728" stroke-width="1.2"/>
<line x1="560.00" y1="352.90" x2="566.00" y2="352.90" stroke="#d62728" stroke-width="1.2"/>
<line x1="560.00" y1="374.90" x2="566.00" y2="374.90" stroke="#d62728" stroke-width="1.2"/>
<circle cx="563.00" cy="363.90" r="1.4" fill="#d62728"/>
<line x1="607.90" y1="361.80" x2="607.90" y2="387.80" stroke="#d62728" stroke-width="1.2"/>
<line x1="604.90" y1="361.80" x2="610.90" y2="361.80" stroke="#d62728" stroke-width="1.2"/>
<line x1="604.90" y1="387.80" x2="610.90" y2="387.80" stroke="#d62728" stroke-width="1.2"/>
<circle cx="607.90" cy="374.80" r="1.4" fill="#d62728"/>
<line x1="652.80" y1="374.80" x2="652.80" y2="401.60" stroke="#d62728" stroke-width="1.2"/>
<line x1="649.80" y1="374.80" x2="655.80" y2="374.80" stroke="#d62728" stroke-width="1.2"/>
<line x1="649.80" y1="401.60" x2="655.80" y2="401.60" stroke="#d62728" stroke-width="1.2"/>
<circle cx="652.80" cy="388.20" r="1.4" fill="#d62728"/>
<line x1="697.70" y1="371.40" x2="697.70" y2="397.40" stroke="#d62728" stroke-width="1.2"/>
<line x1="694.70" y1="371.40" x2="700.70" y2="371.40" stroke="#d62728" stroke-width="1.2"/>
<line x1="694.70" y1="397.40" x2="700.70" y2="397.40" stroke="#d62728" stroke-width="1.2"/>
<circle cx="697.70" cy="384.40" r="1.4" fill="#d62728"/>
<polyline points="518.10,345.50 563.00,354.90 607.90,371.20 652.80,364.90 697.70,374.20" fill="none" stroke="#9467bd" stroke-width="1.6" stroke-linejoin="round"/>
<line x1="518.10" y1="339.30" x2="518.10" y2="351.70" stroke="#9467bd" stroke-width="1.2"/>
<line x1="515.10" y1="339.30" x2="521.10" y2="339.30" stroke="#9467bd" stroke-width="1.2"/>
<line x1="515.10" y1="351.70" x2="521.10" y2="351.70" stroke="#9467bd" stroke-width="1.2"/>
<circle cx="518.10" cy="345.50" r="1.4" fill="#9467bd"/>
<line x1="563.00" y1="346.90" x2="563.00" y2="362.90" stroke="#9467bd" stroke-width="1.2"/>
<line x1="560.00" y1="346.90" x2="566.00" y2="346.90" stroke="#9467bd" stroke-width="1.2"/>
<line x1="560.00" y1="362.90" x2="566.00" y2="362.90" stroke="#9467bd" stroke-width="1.2"/>
<circle cx="563.00" cy="354.90" r="1.4" fill="#9467bd"/>
<line x1="607.90" y1="360.40" x2="607.90" y2="382.00" stroke="#9467bd" stroke-width="1.2"/>
<line x1="604.90" y1="360.40" x2="610.90" y2="360.40" stroke="#9467bd" stroke-width="1.2"/>
<line x1="604.90" y1="382.00" x2="610.90" y2="382.00" stroke="#9467bd" stroke-width="1.2"/>
<circle cx="607.90" cy="371.20" r="1.4" fill="#9467bd"/>
<line x1="652.80" y1="354.90" x2="652.80" y2="374.90" stroke="#9467bd" stroke-width="1.2"/>
<line x1="649.80" y1="354.90" x2="655.80" y2="354.90" stroke="#9467bd" stroke-width="1.2"/>
<line x1="649.80" y1="374.90" x2="655.80" y2="374.90" stroke="#9467bd" stroke-width="1.2"/>
<circle cx="652.80" cy="364.90" r="1.4" fill="#9467bd"/>
<line x1="697.70" y1="362.80" x2="697.70" y2="385.60" stroke="#9467bd" stroke-width="1.2"/>
<line x1="694.70" y1="362.80" x2="700.70" y2="362.80" stroke="#9467bd" stroke-width="1.2"/>
<line x1="694.70" y1="385.60" x2="700.70" y2="385.60" stroke="#9467bd" stroke-width="1.2"/>
<circle cx="697.70" cy="374.20" r="1.4" fill="#9467bd"/>
<line x1="712.00" y1="341.30" x2="738.10" y2="341.30" stroke="#1f77b4" stroke-width="1.6"/>
<line x1="725.00" y1="335.10" x2="725.00" y2="347.50" stroke="#1f77b4" stroke-width="1.2"/>
<line x1="722.70" y1="335.10" x2="727.30" y2="335.10" stroke="#1f77b4" stroke-width="1.2"/>
<line x1="722.70" y1="347.50" x2="727.30" y2="347.50" stroke="#1f77b4" stroke-width="1.2"/>
<text x="748.0" y="346.3" font-family='"Liberation Serif", serif' font-size="15" font-weight="normal" text-anchor="start" fill="#1a1a1a" textLength="138.0" lengthAdjust="spacingAndGlyphs" stroke="#1a1a1a" stroke-width="0.15">Pattern-Distrac Diff. 2</text>
<line x1="712.00" y1="359.75" x2="738.10" y2="359.75" stroke="#ff7f0e" stroke-width="1.6"/>
<line x1="725.00" y1="353.55" x2="725.00" y2="365.95" stroke="#ff7f0e" stroke-width="1.2"/>
<line x1="722.70" y1="353.55" x2="727.30" y2="353.55" stroke="#ff7f0e" stroke-width="1.2"/>
<line x1="722.70" y1="365.95" x2="727.30" y2="365.95" stroke="#ff7f0e" stroke-width="1.2"/>
<text x="748.0" y="364.8" font-family='"Liberation Serif", serif' font-size="15" font-weight="normal" text-anchor="start" fill="#1a1a1a" textLength="138.0" lengthAdjust="spacingAndGlyphs" stroke="#1a1a1a" stroke-width="0.15">Pattern-Distrac Diff. 4</text>
<line x1="712.00" y1="378.20" x2="738.10" y2="378.20" stroke="#2ca02c" stroke-width="1.6"/>
<line x1="725.00" y1="372.00" x2="725.00" y2="384.40" stroke="#2ca02c" stroke-width="1.2"/>
<line x1="722.70" y1="372.00" x2="727.30" y2="372.00" stroke="#2ca02c" stroke-width="1.2"/>
<line x1="722.70" y1="384.40" x2="727.30" y2="384.40" stroke="#2ca02c" stroke-width="1.2"/>
<text x="748.0" y="383.2" font-family='"Liberation Serif", serif' font-size="15" font-weight="normal" text-anchor="start" fill="#1a1a1a" textLength="138.0" lengthAdjust="spacingAndGlyphs" stroke="#1a1a1a" stroke-width="0.15">Pattern-Distrac Diff. 6</text>
<line x1="712.00" y1="396.65" x2="738.10" y2="396.65" stroke="#d62728" stroke-width="1.6"/>
<line x1="725.00" y1="390.45" x2="725.00" y2="402.85" stroke="#d62728" stroke-width="1.2"/>
<line x1="722.70" y1="390.45" x2="727.30" y2="390.45" stroke="#d62728" stroke-width="1.2"/>
<line x1="722.70" y1="402.85" x2="727.30" y2="402.85" stroke="#d62728" stroke-width="1.2"/>
<text x="748.0" y="401.6" font-family='"Liberation Serif", serif' font-size="15" font-weight="normal" text-anchor="start" fill="#1a1a1a" textLength="138.0" lengthAdjust="spacingAndGlyphs" stroke="#1a1a1a" stroke-width="0.15">Pattern-Distrac Diff. 8</text>
<line x1="712.00" y1="415.10" x2="738.10" y2="415.10" stroke="#9467bd" stroke-width="1.6"/>
<line x1="725.00" y1="408.90" x2="725.00" y2="421.30" stroke="#9467bd" stroke-width="1.2"/>
<line x1="722.70" y1="408.90" x2="727.30" y2="408.90" stroke="#9467bd" stroke-width="1.2"/>
<line x1="722.70" y1="421.30" x2="727.30" y2="421.30" stroke="#9467bd" stroke-width="1.2"/>
<text x="748.0" y="420.1" font-family='"Liberation Serif", serif' font-size="15" font-weight="normal" text-anchor="start" fill="#1a1a1a" textLength="146.5" lengthAdjust="spacingAndGlyphs" stroke="#1a1a1a" stroke-width="0.15">Pattern-Distrac Diff. 10</text>
<line x1="754.20" y1="435.80" x2="754.20" y2="539.48" stroke="#3a3a3a" stroke-width="1.15"/>
<line x1="753.62" y1="538.90" x2="852.70" y2="538.90" stroke="#3a3a3a" stroke-width="1.15"/>
<line x1="750.70" y1="438.20" x2="754.20" y2="438.20" stroke="#3a3a3a" stroke-width="1"/>
<text x="749.1" y="444.0" font-family='"Liberation Serif", serif' font-size="17" font-weight="normal" text-anchor="end" fill="#1a1a1a" textLength="25.8" lengthAdjust="spacingAndGlyphs" stroke="#1a1a1a" stroke-width="0.1">1.0</text>
<line x1="750.70" y1="478.50" x2="754.20" y2="478.50" stroke="#3a3a3a" stroke-width="1"/>
<text x="749.1" y="484.3" font-family='"Liberation Serif", serif' font-size="17" font-weight="normal" text-anchor="end" fill="#1a1a1a" textLength="25.8" lengthAdjust="spacingAndGlyphs" stroke="#1a1a1a" stroke-width="0.1">0.8</text>
<line x1="750.70" y1="518.90" x2="754.20" y2="518.90" stroke="#3a3a3a" stroke-width="1"/>
<text x="749.1" y="524.7" font-family='"Liberation Serif", serif' font-size="17" font-weight="normal" text-anchor="end" fill="#1a1a1a" textLength="25.8" lengthAdjust="spacingAndGlyphs" stroke="#1a1a1a" stroke-width="0.1">0.6</text>
<line x1="764.40" y1="538.90" x2="764.40" y2="542.40" stroke="#3a3a3a" stroke-width="1"/>
<text x="764.4" y="557.4" font-family='"Liberation Serif", serif' font-size="17" font-weight="normal" text-anchor="middle" fill="#1a1a1a" stroke="#1a1a1a" stroke-width="0.1">1</text>
<line x1="785.45" y1="538.90" x2="785.45" y2="542.40" stroke="#3a3a3a" stroke-width="1"/>
<text x="785.4" y="557.4" font-family='"Liberation Serif", serif' font-size="17" font-weight="normal" text-anchor="middle" fill="#1a1a1a" stroke="#1a1a1a" stroke-width="0.1">2</text>
<line x1="806.50" y1="538.90" x2="806.50" y2="542.40" stroke="#3a3a3a" stroke-width="1"/>
<text x="806.5" y="557.4" font-family='"Liberation Serif", serif' font-size="17" font-weight="normal" text-anchor="middle" fill="#1a1a1a" stroke="#1a1a1a" stroke-width="0.1">3</text>
<line x1="827.55" y1="538.90" x2="827.55" y2="542.40" stroke="#3a3a3a" stroke-width="1"/>
<text x="827.5" y="557.4" font-family='"Liberation Serif", serif' font-size="17" font-weight="normal" text-anchor="middle" fill="#1a1a1a" stroke="#1a1a1a" stroke-width="0.1">4</text>
<line x1="848.60" y1="538.90" x2="848.60" y2="542.40" stroke="#3a3a3a" stroke-width="1"/>
<text x="848.6" y="557.4" font-family='"Liberation Serif", serif' font-size="17" font-weight="normal" text-anchor="middle" fill="#1a1a1a" stroke="#1a1a1a" stroke-width="0.1">5</text>
<text x="797.6" y="451.3" font-family='"Liberation Sans", sans-serif' font-size="15.7" font-weight="bold" text-anchor="start" fill="#000" textLength="51.0" lengthAdjust="spacingAndGlyphs">Human</text>
<polyline points="764.40,502.50 785.45,497.70 806.50,504.00 827.55,502.50 848.60,502.10" fill="none" stroke="#1f77b4" stroke-width="1.6" stroke-linejoin="round"/>
<circle cx="764.40" cy="502.50" r="2.9" fill="#1f77b4"/>
<circle cx="785.45" cy="497.70" r="2.9" fill="#1f77b4"/>
<circle cx="806.50" cy="504.00" r="2.9" fill="#1f77b4"/>
<circle cx="827.55" cy="502.50" r="2.9" fill="#1f77b4"/>
<circle cx="848.60" cy="502.10" r="2.9" fill="#1f77b4"/>
<polyline points="764.40,490.00 785.45,490.70 806.50,484.70 827.55,488.10 848.60,498.90" fill="none" stroke="#ff7f0e" stroke-width="1.6" stroke-linejoin="round"/>
<circle cx="764.40" cy="490.00" r="2.9" fill="#ff7f0e"/>
<circle cx="785.45" cy="490.70" r="2.9" fill="#ff7f0e"/>
<circle cx="806.50" cy="484.70" r="2.9" fill="#ff7f0e"/>
<circle cx="827.55" cy="488.10" r="2.9" fill="#ff7f0e"/>
<circle cx="848.60" cy="498.90" r="2.9" fill="#ff7f0e"/>
<polyline points="764.40,483.30 785.45,478.70 806.50,480.90 827.55,482.80 848.60,488.80" fill="none" stroke="#2ca02c" stroke-width="1.6" stroke-linejoin="round"/>
<circle cx="764.40" cy="483.30" r="2.9" fill="#2ca02c"/>
<circle cx="785.45" cy="478.70" r="2.9" fill="#2ca02c"/>
<circle cx="806.50" cy="480.90" r="2.9" fill="#2ca02c"/>
<circle cx="827.55" cy="482.80" r="2.9" fill="#2ca02c"/>
<circle cx="848.60" cy="488.80" r="2.9" fill="#2ca02c"/>
<text x="917.2" y="337.0" font-family='"Liberation Serif", serif' font-size="24" font-weight="bold" text-anchor="start" fill="#000" stroke="#000" stroke-width="0.3">F</text>
<line x1="986.00" y1="324.00" x2="986.00" y2="546.88" stroke="#3a3a3a" stroke-width="1.15"/>
<line x1="985.42" y1="546.30" x2="1210.20" y2="546.30" stroke="#3a3a3a" stroke-width="1.15"/>
<line x1="982.50" y1="331.20" x2="986.00" y2="331.20" stroke="#3a3a3a" stroke-width="1"/>
<text x="978.0" y="337.0" font-family='"Liberation Serif", serif' font-size="17" font-weight="normal" text-anchor="end" fill="#1a1a1a" textLength="25.0" lengthAdjust="spacingAndGlyphs" stroke="#1a1a1a" stroke-width="0.1">1.0</text>
<line x1="982.50" y1="402.90" x2="986.00" y2="402.90" stroke="#3a3a3a" stroke-width="1"/>
<text x="978.0" y="408.7" font-family='"Liberation Serif", serif' font-size="17" font-weight="normal" text-anchor="end" fill="#1a1a1a" textLength="25.0" lengthAdjust="spacingAndGlyphs" stroke="#1a1a1a" stroke-width="0.1">0.9</text>
<line x1="982.50" y1="474.60" x2="986.00" y2="474.60" stroke="#3a3a3a" stroke-width="1"/>
<text x="978.0" y="480.4" font-family='"Liberation Serif", serif' font-size="17" font-weight="normal" text-anchor="end" fill="#1a1a1a" textLength="25.0" lengthAdjust="spacingAndGlyphs" stroke="#1a1a1a" stroke-width="0.1">0.8</text>
<line x1="982.50" y1="546.30" x2="986.00" y2="546.30" stroke="#3a3a3a" stroke-width="1"/>
<text x="978.0" y="552.1" font-family='"Liberation Serif", serif' font-size="17" font-weight="normal" text-anchor="end" fill="#1a1a1a" textLength="25.0" lengthAdjust="spacingAndGlyphs" stroke="#1a1a1a" stroke-width="0.1">0.7</text>
<line x1="996.10" y1="546.30" x2="996.10" y2="549.80" stroke="#3a3a3a" stroke-width="1"/>
<text x="996.1" y="564.6" font-family='"Liberation Serif", serif' font-size="17" font-weight="normal" text-anchor="middle" fill="#1a1a1a" stroke="#1a1a1a" stroke-width="0.1">2</text>
<line x1="1036.82" y1="546.30" x2="1036.82" y2="549.80" stroke="#3a3a3a" stroke-width="1"/>
<text x="1036.8" y="564.6" font-family='"Liberation Serif", serif' font-size="17" font-weight="normal" text-anchor="middle" fill="#1a1a1a" stroke="#1a1a1a" stroke-width="0.1">4</text>
<line x1="1077.54" y1="546.30" x2="1077.54" y2="549.80" stroke="#3a3a3a" stroke-width="1"/>
<text x="1077.5" y="564.6" font-family='"Liberation Serif", serif' font-size="17" font-weight="normal" text-anchor="middle" fill="#1a1a1a" stroke="#1a1a1a" stroke-width="0.1">6</text>
<line x1="1118.26" y1="546.30" x2="1118.26" y2="549.80" stroke="#3a3a3a" stroke-width="1"/>
<text x="1118.3" y="564.6" font-family='"Liberation Serif", serif' font-size="17" font-weight="normal" text-anchor="middle" fill="#1a1a1a" stroke="#1a1a1a" stroke-width="0.1">8</text>
<line x1="1158.98" y1="546.30" x2="1158.98" y2="549.80" stroke="#3a3a3a" stroke-width="1"/>
<text x="1159.0" y="564.6" font-family='"Liberation Serif", serif' font-size="17" font-weight="normal" text-anchor="middle" fill="#1a1a1a" stroke="#1a1a1a" stroke-width="0.1">10</text>
<line x1="1199.70" y1="546.30" x2="1199.70" y2="549.80" stroke="#3a3a3a" stroke-width="1"/>
<text x="1199.7" y="564.6" font-family='"Liberation Serif", serif' font-size="17" font-weight="normal" text-anchor="middle" fill="#1a1a1a" stroke="#1a1a1a" stroke-width="0.1">12</text>
<text x="1057.0" y="586.5" font-family='"Liberation Serif", serif' font-size="22.5" font-weight="normal" text-anchor="start" fill="#1a1a1a" textLength="81.5" lengthAdjust="spacingAndGlyphs" stroke="#1a1a1a" stroke-width="0.15">Set Size</text>
<text transform="translate(945.7,513.6) rotate(-90)" x="0" y="0" font-family='"Liberation Serif", serif' font-size="23" fill="#1a1a1a" stroke="#1a1a1a" stroke-width="0.15" textLength="156.7" lengthAdjust="spacingAndGlyphs">Top-1 Accuracy</text>
<polyline points="996.10,331.20 1036.82,331.20 1077.54,331.80 1118.26,331.50 1158.98,331.50 1199.70,332.50" fill="none" stroke="#1f77b4" stroke-width="1.6" stroke-linejoin="round"/>
<line x1="996.10" y1="330.40" x2="996.10" y2="332.00" stroke="#1f77b4" stroke-width="1.0"/>
<line x1="993.60" y1="330.40" x2="998.60" y2="330.40" stroke="#1f77b4" stroke-width="1.0"/>
<line x1="993.60" y1="332.00" x2="998.60" y2="332.00" stroke="#1f77b4" stroke-width="1.0"/>
<circle cx="996.10" cy="331.20" r="1.4" fill="#1f77b4"/>
<line x1="1036.82" y1="330.40" x2="1036.82" y2="332.00" stroke="#1f77b4" stroke-width="1.0"/>
<line x1="1034.32" y1="330.40" x2="1039.32" y2="330.40" stroke="#1f77b4" stroke-width="1.0"/>
<line x1="1034.32" y1="332.00" x2="1039.32" y2="332.00" stroke="#1f77b4" stroke-width="1.0"/>
<circle cx="1036.82" cy="331.20" r="1.4" fill="#1f77b4"/>
<line x1="1077.54" y1="331.00" x2="1077.54" y2="332.60" stroke="#1f77b4" stroke-width="1.0"/>
<line x1="1075.04" y1="331.00" x2="1080.04" y2="331.00" stroke="#1f77b4" stroke-width="1.0"/>
<line x1="1075.04" y1="332.60" x2="1080.04" y2="332.60" stroke="#1f77b4" stroke-width="1.0"/>
<circle cx="1077.54" cy="331.80" r="1.4" fill="#1f77b4"/>
<line x1="1118.26" y1="330.70" x2="1118.26" y2="332.30" stroke="#1f77b4" stroke-width="1.0"/>
<line x1="1115.76" y1="330.70" x2="1120.76" y2="330.70" stroke="#1f77b4" stroke-width="1.0"/>
<line x1="1115.76" y1="332.30" x2="1120.76" y2="332.30" stroke="#1f77b4" stroke-width="1.0"/>
<circle cx="1118.26" cy="331.50" r="1.4" fill="#1f77b4"/>
<line x1="1158.98" y1="330.70" x2="1158.98" y2="332.30" stroke="#1f77b4" stroke-width="1.0"/>
<line x1="1156.48" y1="330.70" x2="1161.48" y2="330.70" stroke="#1f77b4" stroke-width="1.0"/>
<line x1="1156.48" y1="332.30" x2="1161.48" y2="332.30" stroke="#1f77b4" stroke-width="1.0"/>
<circle cx="1158.98" cy="331.50" r="1.4" fill="#1f77b4"/>
<line x1="1199.70" y1="331.70" x2="1199.70" y2="333.30" stroke="#1f77b4" stroke-width="1.0"/>
<line x1="1197.20" y1="331.70" x2="1202.20" y2="331.70" stroke="#1f77b4" stroke-width="1.0"/>
<line x1="1197.20" y1="333.30" x2="1202.20" y2="333.30" stroke="#1f77b4" stroke-width="1.0"/>
<circle cx="1199.70" cy="332.50" r="1.4" fill="#1f77b4"/>
<polyline points="996.10,331.20 1036.82,331.20 1077.54,331.50 1118.26,331.20 1158.98,331.50 1199.70,335.30" fill="none" stroke="#ff7f0e" stroke-width="1.6" stroke-linejoin="round"/>
<line x1="996.10" y1="330.40" x2="996.10" y2="332.00" stroke="#ff7f0e" stroke-width="1.0"/>
<line x1="993.60" y1="330.40" x2="998.60" y2="330.40" stroke="#ff7f0e" stroke-width="1.0"/>
<line x1="993.60" y1="332.00" x2="998.60" y2="332.00" stroke="#ff7f0e" stroke-width="1.0"/>
<circle cx="996.10" cy="331.20" r="1.4" fill="#ff7f0e"/>
<line x1="1036.82" y1="330.40" x2="1036.82" y2="332.00" stroke="#ff7f0e" stroke-width="1.0"/>
<line x1="1034.32" y1="330.40" x2="1039.32" y2="330.40" stroke="#ff7f0e" stroke-width="1.0"/>
<line x1="1034.32" y1="332.00" x2="1039.32" y2="332.00" stroke="#ff7f0e" stroke-width="1.0"/>
<circle cx="1036.82" cy="331.20" r="1.4" fill="#ff7f0e"/>
<line x1="1077.54" y1="330.70" x2="1077.54" y2="332.30" stroke="#ff7f0e" stroke-width="1.0"/>
<line x1="1075.04" y1="330.70" x2="1080.04" y2="330.70" stroke="#ff7f0e" stroke-width="1.0"/>
<line x1="1075.04" y1="332.30" x2="1080.04" y2="332.30" stroke="#ff7f0e" stroke-width="1.0"/>
<circle cx="1077.54" cy="331.50" r="1.4" fill="#ff7f0e"/>
<line x1="1118.26" y1="330.40" x2="1118.26" y2="332.00" stroke="#ff7f0e" stroke-width="1.0"/>
<line x1="1115.76" y1="330.40" x2="1120.76" y2="330.40" stroke="#ff7f0e" stroke-width="1.0"/>
<line x1="1115.76" y1="332.00" x2="1120.76" y2="332.00" stroke="#ff7f0e" stroke-width="1.0"/>
<circle cx="1118.26" cy="331.20" r="1.4" fill="#ff7f0e"/>
<line x1="1158.98" y1="330.70" x2="1158.98" y2="332.30" stroke="#ff7f0e" stroke-width="1.0"/>
<line x1="1156.48" y1="330.70" x2="1161.48" y2="330.70" stroke="#ff7f0e" stroke-width="1.0"/>
<line x1="1156.48" y1="332.30" x2="1161.48" y2="332.30" stroke="#ff7f0e" stroke-width="1.0"/>
<circle cx="1158.98" cy="331.50" r="1.4" fill="#ff7f0e"/>
<line x1="1199.70" y1="334.50" x2="1199.70" y2="336.10" stroke="#ff7f0e" stroke-width="1.0"/>
<line x1="1197.20" y1="334.50" x2="1202.20" y2="334.50" stroke="#ff7f0e" stroke-width="1.0"/>
<line x1="1197.20" y1="336.10" x2="1202.20" y2="336.10" stroke="#ff7f0e" stroke-width="1.0"/>
<circle cx="1199.70" cy="335.30" r="1.4" fill="#ff7f0e"/>
<polyline points="996.10,331.20 1036.82,331.20 1077.54,331.50 1118.26,331.20 1158.98,331.30 1199.70,330.80" fill="none" stroke="#2ca02c" stroke-width="1.6" stroke-linejoin="round"/>
<line x1="996.10" y1="330.40" x2="996.10" y2="332.00" stroke="#2ca02c" stroke-width="1.0"/>
<line x1="993.60" y1="330.40" x2="998.60" y2="330.40" stroke="#2ca02c" stroke-width="1.0"/>
<line x1="993.60" y1="332.00" x2="998.60" y2="332.00" stroke="#2ca02c" stroke-width="1.0"/>
<circle cx="996.10" cy="331.20" r="1.4" fill="#2ca02c"/>
<line x1="1036.82" y1="330.40" x2="1036.82" y2="332.00" stroke="#2ca02c" stroke-width="1.0"/>
<line x1="1034.32" y1="330.40" x2="1039.32" y2="330.40" stroke="#2ca02c" stroke-width="1.0"/>
<line x1="1034.32" y1="332.00" x2="1039.32" y2="332.00" stroke="#2ca02c" stroke-width="1.0"/>
<circle cx="1036.82" cy="331.20" r="1.4" fill="#2ca02c"/>
<line x1="1077.54" y1="330.70" x2="1077.54" y2="332.30" stroke="#2ca02c" stroke-width="1.0"/>
<line x1="1075.04" y1="330.70" x2="1080.04" y2="330.70" stroke="#2ca02c" stroke-width="1.0"/>
<line x1="1075.04" y1="332.30" x2="1080.04" y2="332.30" stroke="#2ca02c" stroke-width="1.0"/>
<circle cx="1077.54" cy="331.50" r="1.4" fill="#2ca02c"/>
<line x1="1118.26" y1="330.40" x2="1118.26" y2="332.00" stroke="#2ca02c" stroke-width="1.0"/>
<line x1="1115.76" y1="330.40" x2="1120.76" y2="330.40" stroke="#2ca02c" stroke-width="1.0"/>
<line x1="1115.76" y1="332.00" x2="1120.76" y2="332.00" stroke="#2ca02c" stroke-width="1.0"/>
<circle cx="1118.26" cy="331.20" r="1.4" fill="#2ca02c"/>
<line x1="1158.98" y1="330.50" x2="1158.98" y2="332.10" stroke="#2ca02c" stroke-width="1.0"/>
<line x1="1156.48" y1="330.50" x2="1161.48" y2="330.50" stroke="#2ca02c" stroke-width="1.0"/>
<line x1="1156.48" y1="332.10" x2="1161.48" y2="332.10" stroke="#2ca02c" stroke-width="1.0"/>
<circle cx="1158.98" cy="331.30" r="1.4" fill="#2ca02c"/>
<line x1="1199.70" y1="330.00" x2="1199.70" y2="331.60" stroke="#2ca02c" stroke-width="1.0"/>
<line x1="1197.20" y1="330.00" x2="1202.20" y2="330.00" stroke="#2ca02c" stroke-width="1.0"/>
<line x1="1197.20" y1="331.60" x2="1202.20" y2="331.60" stroke="#2ca02c" stroke-width="1.0"/>
<circle cx="1199.70" cy="330.80" r="1.4" fill="#2ca02c"/>
<polyline points="996.10,331.20 1036.82,331.20 1077.54,333.00 1118.26,331.30 1158.98,331.30 1199.70,332.50" fill="none" stroke="#d62728" stroke-width="1.6" stroke-linejoin="round"/>
<line x1="996.10" y1="330.40" x2="996.10" y2="332.00" stroke="#d62728" stroke-width="1.0"/>
<line x1="993.60" y1="330.40" x2="998.60" y2="330.40" stroke="#d62728" stroke-width="1.0"/>
<line x1="993.60" y1="332.00" x2="998.60" y2="332.00" stroke="#d62728" stroke-width="1.0"/>
<circle cx="996.10" cy="331.20" r="1.4" fill="#d62728"/>
<line x1="1036.82" y1="330.40" x2="1036.82" y2="332.00" stroke="#d62728" stroke-width="1.0"/>
<line x1="1034.32" y1="330.40" x2="1039.32" y2="330.40" stroke="#d62728" stroke-width="1.0"/>
<line x1="1034.32" y1="332.00" x2="1039.32" y2="332.00" stroke="#d62728" stroke-width="1.0"/>
<circle cx="1036.82" cy="331.20" r="1.4" fill="#d62728"/>
<line x1="1077.54" y1="332.20" x2="1077.54" y2="333.80" stroke="#d62728" stroke-width="1.0"/>
<line x1="1075.04" y1="332.20" x2="1080.04" y2="332.20" stroke="#d62728" stroke-width="1.0"/>
<line x1="1075.04" y1="333.80" x2="1080.04" y2="333.80" stroke="#d62728" stroke-width="1.0"/>
<circle cx="1077.54" cy="333.00" r="1.4" fill="#d62728"/>
<line x1="1118.26" y1="330.50" x2="1118.26" y2="332.10" stroke="#d62728" stroke-width="1.0"/>
<line x1="1115.76" y1="330.50" x2="1120.76" y2="330.50" stroke="#d62728" stroke-width="1.0"/>
<line x1="1115.76" y1="332.10" x2="1120.76" y2="332.10" stroke="#d62728" stroke-width="1.0"/>
<circle cx="1118.26" cy="331.30" r="1.4" fill="#d62728"/>
<line x1="1158.98" y1="330.50" x2="1158.98" y2="332.10" stroke="#d62728" stroke-width="1.0"/>
<line x1="1156.48" y1="330.50" x2="1161.48" y2="330.50" stroke="#d62728" stroke-width="1.0"/>
<line x1="1156.48" y1="332.10" x2="1161.48" y2="332.10" stroke="#d62728" stroke-width="1.0"/>
<circle cx="1158.98" cy="331.30" r="1.4" fill="#d62728"/>
<line x1="1199.70" y1="331.70" x2="1199.70" y2="333.30" stroke="#d62728" stroke-width="1.0"/>
<line x1="1197.20" y1="331.70" x2="1202.20" y2="331.70" stroke="#d62728" stroke-width="1.0"/>
<line x1="1197.20" y1="333.30" x2="1202.20" y2="333.30" stroke="#d62728" stroke-width="1.0"/>
<circle cx="1199.70" cy="332.50" r="1.4" fill="#d62728"/>
<polyline points="996.10,331.20 1036.82,331.20 1077.54,331.50 1118.26,332.30 1158.98,332.30 1199.70,332.50" fill="none" stroke="#9467bd" stroke-width="1.6" stroke-linejoin="round"/>
<line x1="996.10" y1="330.40" x2="996.10" y2="332.00" stroke="#9467bd" stroke-width="1.0"/>
<line x1="993.60" y1="330.40" x2="998.60" y2="330.40" stroke="#9467bd" stroke-width="1.0"/>
<line x1="993.60" y1="332.00" x2="998.60" y2="332.00" stroke="#9467bd" stroke-width="1.0"/>
<circle cx="996.10" cy="331.20" r="1.4" fill="#9467bd"/>
<line x1="1036.82" y1="330.40" x2="1036.82" y2="332.00" stroke="#9467bd" stroke-width="1.0"/>
<line x1="1034.32" y1="330.40" x2="1039.32" y2="330.40" stroke="#9467bd" stroke-width="1.0"/>
<line x1="1034.32" y1="332.00" x2="1039.32" y2="332.00" stroke="#9467bd" stroke-width="1.0"/>
<circle cx="1036.82" cy="331.20" r="1.4" fill="#9467bd"/>
<line x1="1077.54" y1="330.70" x2="1077.54" y2="332.30" stroke="#9467bd" stroke-width="1.0"/>
<line x1="1075.04" y1="330.70" x2="1080.04" y2="330.70" stroke="#9467bd" stroke-width="1.0"/>
<line x1="1075.04" y1="332.30" x2="1080.04" y2="332.30" stroke="#9467bd" stroke-width="1.0"/>
<circle cx="1077.54" cy="331.50" r="1.4" fill="#9467bd"/>
<line x1="1118.26" y1="331.50" x2="1118.26" y2="333.10" stroke="#9467bd" stroke-width="1.0"/>
<line x1="1115.76" y1="331.50" x2="1120.76" y2="331.50" stroke="#9467bd" stroke-width="1.0"/>
<line x1="1115.76" y1="333.10" x2="1120.76" y2="333.10" stroke="#9467bd" stroke-width="1.0"/>
<circle cx="1118.26" cy="332.30" r="1.4" fill="#9467bd"/>
<line x1="1158.98" y1="331.50" x2="1158.98" y2="333.10" stroke="#9467bd" stroke-width="1.0"/>
<line x1="1156.48" y1="331.50" x2="1161.48" y2="331.50" stroke="#9467bd" stroke-width="1.0"/>
<line x1="1156.48" y1="333.10" x2="1161.48" y2="333.10" stroke="#9467bd" stroke-width="1.0"/>
<circle cx="1158.98" cy="332.30" r="1.4" fill="#9467bd"/>
<line x1="1199.70" y1="331.70" x2="1199.70" y2="333.30" stroke="#9467bd" stroke-width="1.0"/>
<line x1="1197.20" y1="331.70" x2="1202.20" y2="331.70" stroke="#9467bd" stroke-width="1.0"/>
<line x1="1197.20" y1="333.30" x2="1202.20" y2="333.30" stroke="#9467bd" stroke-width="1.0"/>
<circle cx="1199.70" cy="332.50" r="1.4" fill="#9467bd"/>
<polyline points="996.10,342.40 1036.82,371.10 1077.54,445.50" fill="none" stroke="#8c564b" stroke-width="1.6" stroke-linejoin="round" stroke-dasharray="5.5,2.5"/>
<circle cx="996.10" cy="342.40" r="3.0" fill="#8c564b"/>
<circle cx="1036.82" cy="371.10" r="3.0" fill="#8c564b"/>
<circle cx="1077.54" cy="445.50" r="3.0" fill="#8c564b"/>
<polyline points="996.10,363.50 1036.82,403.20 1077.54,467.50" fill="none" stroke="#e377c2" stroke-width="1.6" stroke-linejoin="round" stroke-dasharray="5.5,2.5"/>
<circle cx="996.10" cy="363.50" r="3.0" fill="#e377c2"/>
<circle cx="1036.82" cy="403.20" r="3.0" fill="#e377c2"/>
<circle cx="1077.54" cy="467.50" r="3.0" fill="#e377c2"/>
<polyline points="996.10,349.50 1036.82,381.20 1077.54,460.30" fill="none" stroke="#7f7f7f" stroke-width="1.6" stroke-linejoin="round" stroke-dasharray="5.5,2.5"/>
<circle cx="996.10" cy="349.50" r="3.0" fill="#7f7f7f"/>
<circle cx="1036.82" cy="381.20" r="3.0" fill="#7f7f7f"/>
<circle cx="1077.54" cy="460.30" r="3.0" fill="#7f7f7f"/>
<polyline points="996.10,370.90 1036.82,410.40 1077.54,474.60" fill="none" stroke="#bcbd22" stroke-width="1.6" stroke-linejoin="round" stroke-dasharray="5.5,2.5"/>
<circle cx="996.10" cy="370.90" r="3.0" fill="#bcbd22"/>
<circle cx="1036.82" cy="410.40" r="3.0" fill="#bcbd22"/>
<circle cx="1077.54" cy="474.60" r="3.0" fill="#bcbd22"/>
<polyline points="996.10,356.00 1036.82,388.80 1077.54,452.70" fill="none" stroke="#17becf" stroke-width="1.6" stroke-linejoin="round" stroke-dasharray="5.5,2.5"/>
<circle cx="996.10" cy="356.00" r="3.0" fill="#17becf"/>
<circle cx="1036.82" cy="388.80" r="3.0" fill="#17becf"/>
<circle cx="1077.54" cy="452.70" r="3.0" fill="#17becf"/>
<line x1="1156.60" y1="354.50" x2="1184.00" y2="354.50" stroke="#1f77b4" stroke-width="1.6"/>
<line x1="1170.40" y1="348.10" x2="1170.40" y2="360.90" stroke="#1f77b4" stroke-width="1.2"/>
<line x1="1168.10" y1="348.10" x2="1172.70" y2="348.10" stroke="#1f77b4" stroke-width="1.2"/>
<line x1="1168.10" y1="360.90" x2="1172.70" y2="360.90" stroke="#1f77b4" stroke-width="1.2"/>
<text x="1194.2" y="359.5" font-family='"Liberation Serif", serif' font-size="15" font-weight="normal" text-anchor="start" fill="#1a1a1a" textLength="92.0" lengthAdjust="spacingAndGlyphs" stroke="#1a1a1a" stroke-width="0.15">RNN-96 Color</text>
<line x1="1156.60" y1="373.46" x2="1184.00" y2="373.46" stroke="#ff7f0e" stroke-width="1.6"/>
<line x1="1170.40" y1="367.06" x2="1170.40" y2="379.86" stroke="#ff7f0e" stroke-width="1.2"/>
<line x1="1168.10" y1="367.06" x2="1172.70" y2="367.06" stroke="#ff7f0e" stroke-width="1.2"/>
<line x1="1168.10" y1="379.86" x2="1172.70" y2="379.86" stroke="#ff7f0e" stroke-width="1.2"/>
<text x="1194.2" y="378.5" font-family='"Liberation Serif", serif' font-size="15" font-weight="normal" text-anchor="start" fill="#1a1a1a" textLength="130.2" lengthAdjust="spacingAndGlyphs" stroke="#1a1a1a" stroke-width="0.15">RNN-96 Orientation</text>
<line x1="1156.60" y1="392.42" x2="1184.00" y2="392.42" stroke="#2ca02c" stroke-width="1.6"/>
<line x1="1170.40" y1="386.02" x2="1170.40" y2="398.82" stroke="#2ca02c" stroke-width="1.2"/>
<line x1="1168.10" y1="386.02" x2="1172.70" y2="386.02" stroke="#2ca02c" stroke-width="1.2"/>
<line x1="1168.10" y1="398.82" x2="1172.70" y2="398.82" stroke="#2ca02c" stroke-width="1.2"/>
<text x="1194.2" y="397.4" font-family='"Liberation Serif", serif' font-size="15" font-weight="normal" text-anchor="start" fill="#1a1a1a" textLength="83.5" lengthAdjust="spacingAndGlyphs" stroke="#1a1a1a" stroke-width="0.15">RNN-96 Size</text>
<line x1="1156.60" y1="411.38" x2="1184.00" y2="411.38" stroke="#d62728" stroke-width="1.6"/>
<line x1="1170.40" y1="404.98" x2="1170.40" y2="417.78" stroke="#d62728" stroke-width="1.2"/>
<line x1="1168.10" y1="404.98" x2="1172.70" y2="404.98" stroke="#d62728" stroke-width="1.2"/>
<line x1="1168.10" y1="417.78" x2="1172.70" y2="417.78" stroke="#d62728" stroke-width="1.2"/>
<text x="1194.2" y="416.4" font-family='"Liberation Serif", serif' font-size="15" font-weight="normal" text-anchor="start" fill="#1a1a1a" textLength="82.7" lengthAdjust="spacingAndGlyphs" stroke="#1a1a1a" stroke-width="0.15">RNN-96 Gap</text>
<line x1="1156.60" y1="430.34" x2="1184.00" y2="430.34" stroke="#9467bd" stroke-width="1.6"/>
<line x1="1170.40" y1="423.94" x2="1170.40" y2="436.74" stroke="#9467bd" stroke-width="1.2"/>
<line x1="1168.10" y1="423.94" x2="1172.70" y2="423.94" stroke="#9467bd" stroke-width="1.2"/>
<line x1="1168.10" y1="436.74" x2="1172.70" y2="436.74" stroke="#9467bd" stroke-width="1.2"/>
<text x="1194.2" y="435.3" font-family='"Liberation Serif", serif' font-size="15" font-weight="normal" text-anchor="start" fill="#1a1a1a" textLength="134.5" lengthAdjust="spacingAndGlyphs" stroke="#1a1a1a" stroke-width="0.15">RNN-96 Conjunction</text>
<line x1="1157.40" y1="449.30" x2="1164.00" y2="449.30" stroke="#8c564b" stroke-width="1.6"/>
<line x1="1174.50" y1="449.30" x2="1180.50" y2="449.30" stroke="#8c564b" stroke-width="1.6"/>
<circle cx="1170.20" cy="449.30" r="3" fill="#8c564b"/>
<line x1="1170.20" y1="443.10" x2="1170.20" y2="455.50" stroke="#8c564b" stroke-width="1.2"/>
<text x="1194.2" y="454.3" font-family='"Liberation Serif", serif' font-size="15" font-weight="normal" text-anchor="start" fill="#1a1a1a" textLength="86.3" lengthAdjust="spacingAndGlyphs" stroke="#1a1a1a" stroke-width="0.15">Human Color</text>
<line x1="1157.40" y1="468.26" x2="1164.00" y2="468.26" stroke="#e377c2" stroke-width="1.6"/>
<line x1="1174.50" y1="468.26" x2="1180.50" y2="468.26" stroke="#e377c2" stroke-width="1.6"/>
<circle cx="1170.20" cy="468.26" r="3" fill="#e377c2"/>
<line x1="1170.20" y1="462.06" x2="1170.20" y2="474.46" stroke="#e377c2" stroke-width="1.2"/>
<text x="1194.2" y="473.3" font-family='"Liberation Serif", serif' font-size="15" font-weight="normal" text-anchor="start" fill="#1a1a1a" textLength="125.5" lengthAdjust="spacingAndGlyphs" stroke="#1a1a1a" stroke-width="0.15">Human Orientation</text>
<line x1="1157.40" y1="487.22" x2="1164.00" y2="487.22" stroke="#7f7f7f" stroke-width="1.6"/>
<line x1="1174.50" y1="487.22" x2="1180.50" y2="487.22" stroke="#7f7f7f" stroke-width="1.6"/>
<circle cx="1170.20" cy="487.22" r="3" fill="#7f7f7f"/>
<line x1="1170.20" y1="481.02" x2="1170.20" y2="493.42" stroke="#7f7f7f" stroke-width="1.2"/>
<text x="1194.2" y="492.2" font-family='"Liberation Serif", serif' font-size="15" font-weight="normal" text-anchor="start" fill="#1a1a1a" textLength="78.5" lengthAdjust="spacingAndGlyphs" stroke="#1a1a1a" stroke-width="0.15">Human Size</text>
<line x1="1157.40" y1="506.18" x2="1164.00" y2="506.18" stroke="#bcbd22" stroke-width="1.6"/>
<line x1="1174.50" y1="506.18" x2="1180.50" y2="506.18" stroke="#bcbd22" stroke-width="1.6"/>
<circle cx="1170.20" cy="506.18" r="3" fill="#bcbd22"/>
<line x1="1170.20" y1="499.98" x2="1170.20" y2="512.38" stroke="#bcbd22" stroke-width="1.2"/>
<text x="1194.2" y="511.2" font-family='"Liberation Serif", serif' font-size="15" font-weight="normal" text-anchor="start" fill="#1a1a1a" textLength="77.5" lengthAdjust="spacingAndGlyphs" stroke="#1a1a1a" stroke-width="0.15">Human Gap</text>
<line x1="1157.40" y1="525.14" x2="1164.00" y2="525.14" stroke="#17becf" stroke-width="1.6"/>
<line x1="1174.50" y1="525.14" x2="1180.50" y2="525.14" stroke="#17becf" stroke-width="1.6"/>
<circle cx="1170.20" cy="525.14" r="3" fill="#17becf"/>
<line x1="1170.20" y1="518.94" x2="1170.20" y2="531.34" stroke="#17becf" stroke-width="1.2"/>
<text x="1194.2" y="530.1" font-family='"Liberation Serif", serif' font-size="15" font-weight="normal" text-anchor="start" fill="#1a1a1a" textLength="129.0" lengthAdjust="spacingAndGlyphs" stroke="#1a1a1a" stroke-width="0.15">Human Conjunction</text>
</g>
</svg></body></html>
